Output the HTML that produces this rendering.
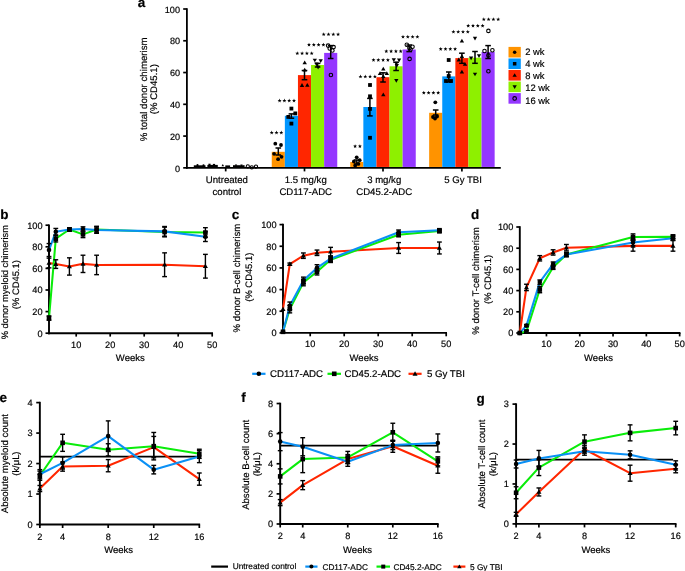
<!DOCTYPE html>
<html><head><meta charset="utf-8"><style>
html,body{margin:0;padding:0;background:#fff;}
svg{display:block;font-family:"Liberation Sans", sans-serif;}
text{stroke:#000;stroke-width:0.18px;}
svg{will-change:transform;text-rendering:geometricPrecision;filter:blur(0.3px);}
</style></head><body>
<svg width="685" height="571" viewBox="0 0 685 571">
<rect width="685" height="571" fill="#fff"/>
<text x="141.50" y="7.20" font-size="13.5" text-anchor="middle" font-weight="bold" fill="#000">a</text>
<line x1="186.90" y1="8.20" x2="186.90" y2="168.80" stroke="#000" stroke-width="1.8" stroke-linecap="butt"/>
<line x1="183.20" y1="167.85" x2="186.90" y2="167.85" stroke="#000" stroke-width="1.7" stroke-linecap="butt"/>
<text x="180.00" y="171.55" font-size="9.1" text-anchor="end" font-weight="normal" fill="#000">0</text>
<line x1="183.20" y1="136.08" x2="186.90" y2="136.08" stroke="#000" stroke-width="1.7" stroke-linecap="butt"/>
<text x="180.00" y="139.78" font-size="9.1" text-anchor="end" font-weight="normal" fill="#000">20</text>
<line x1="183.20" y1="104.31" x2="186.90" y2="104.31" stroke="#000" stroke-width="1.7" stroke-linecap="butt"/>
<text x="180.00" y="108.01" font-size="9.1" text-anchor="end" font-weight="normal" fill="#000">40</text>
<line x1="183.20" y1="72.54" x2="186.90" y2="72.54" stroke="#000" stroke-width="1.7" stroke-linecap="butt"/>
<text x="180.00" y="76.24" font-size="9.1" text-anchor="end" font-weight="normal" fill="#000">60</text>
<line x1="183.20" y1="40.77" x2="186.90" y2="40.77" stroke="#000" stroke-width="1.7" stroke-linecap="butt"/>
<text x="180.00" y="44.47" font-size="9.1" text-anchor="end" font-weight="normal" fill="#000">80</text>
<line x1="183.20" y1="9.00" x2="186.90" y2="9.00" stroke="#000" stroke-width="1.7" stroke-linecap="butt"/>
<text x="180.00" y="12.70" font-size="9.1" text-anchor="end" font-weight="normal" fill="#000">100</text>
<line x1="186.00" y1="167.85" x2="500.80" y2="167.85" stroke="#000" stroke-width="1.9" stroke-linecap="butt"/>
<line x1="225.70" y1="167.85" x2="225.70" y2="171.40" stroke="#000" stroke-width="1.7" stroke-linecap="butt"/>
<line x1="304.50" y1="167.85" x2="304.50" y2="171.40" stroke="#000" stroke-width="1.7" stroke-linecap="butt"/>
<line x1="383.00" y1="167.85" x2="383.00" y2="171.40" stroke="#000" stroke-width="1.7" stroke-linecap="butt"/>
<line x1="461.90" y1="167.85" x2="461.90" y2="171.40" stroke="#000" stroke-width="1.7" stroke-linecap="butt"/>
<rect x="192.95" y="166.90" width="13.10" height="0.05" fill="#FF9300"/>
<rect x="206.05" y="166.90" width="13.10" height="0.05" fill="#0096FF"/>
<rect x="219.15" y="167.00" width="13.10" height="-0.05" fill="#FF2600"/>
<rect x="232.25" y="166.90" width="13.10" height="0.05" fill="#8EF000"/>
<rect x="245.35" y="166.90" width="13.10" height="0.05" fill="#9437FF"/>
<rect x="271.75" y="151.80" width="13.10" height="15.15" fill="#FF9300"/>
<rect x="284.85" y="115.80" width="13.10" height="51.15" fill="#0096FF"/>
<rect x="297.95" y="75.10" width="13.10" height="91.85" fill="#FF2600"/>
<rect x="311.05" y="65.00" width="13.10" height="101.95" fill="#8EF000"/>
<rect x="324.15" y="52.90" width="13.10" height="114.05" fill="#9437FF"/>
<rect x="350.25" y="162.00" width="13.10" height="4.95" fill="#FF9300"/>
<rect x="363.35" y="107.00" width="13.10" height="59.95" fill="#0096FF"/>
<rect x="376.45" y="77.20" width="13.10" height="89.75" fill="#FF2600"/>
<rect x="389.55" y="66.30" width="13.10" height="100.65" fill="#8EF000"/>
<rect x="402.65" y="49.50" width="13.10" height="117.45" fill="#9437FF"/>
<rect x="429.15" y="112.80" width="13.10" height="54.15" fill="#FF9300"/>
<rect x="442.25" y="76.40" width="13.10" height="90.55" fill="#0096FF"/>
<rect x="455.35" y="58.10" width="13.10" height="108.85" fill="#FF2600"/>
<rect x="468.45" y="57.70" width="13.10" height="109.25" fill="#8EF000"/>
<rect x="481.55" y="52.00" width="13.10" height="114.95" fill="#9437FF"/>
<text x="147.50" y="89.30" font-size="9.7" text-anchor="middle" font-weight="normal" fill="#000" transform="rotate(-90 147.50 89.30)">% total donor chimerism</text>
<text x="157.50" y="89.20" font-size="9.6" text-anchor="middle" font-weight="normal" fill="#000" transform="rotate(-90 157.50 89.20)">(% CD45.1)</text>
<text x="226.90" y="183.10" font-size="9.6" text-anchor="middle" font-weight="normal" fill="#000">Untreated</text>
<text x="226.90" y="194.50" font-size="9.6" text-anchor="middle" font-weight="normal" fill="#000">control</text>
<text x="305.70" y="183.10" font-size="9.6" text-anchor="middle" font-weight="normal" fill="#000">1.5 mg/kg</text>
<text x="305.70" y="194.50" font-size="9.6" text-anchor="middle" font-weight="normal" fill="#000">CD117-ADC</text>
<text x="384.20" y="183.10" font-size="9.6" text-anchor="middle" font-weight="normal" fill="#000">3 mg/kg</text>
<text x="384.20" y="194.50" font-size="9.6" text-anchor="middle" font-weight="normal" fill="#000">CD45.2-ADC</text>
<text x="463.10" y="183.10" font-size="9.6" text-anchor="middle" font-weight="normal" fill="#000">5 Gy TBI</text>
<line x1="278.30" y1="148.00" x2="278.30" y2="155.00" stroke="#000" stroke-width="1.5" stroke-linecap="butt"/>
<line x1="275.50" y1="148.00" x2="281.10" y2="148.00" stroke="#000" stroke-width="1.5" stroke-linecap="butt"/>
<line x1="275.50" y1="155.00" x2="281.10" y2="155.00" stroke="#000" stroke-width="1.5" stroke-linecap="butt"/>
<line x1="291.40" y1="113.90" x2="291.40" y2="118.20" stroke="#000" stroke-width="1.5" stroke-linecap="butt"/>
<line x1="288.60" y1="113.90" x2="294.20" y2="113.90" stroke="#000" stroke-width="1.5" stroke-linecap="butt"/>
<line x1="288.60" y1="118.20" x2="294.20" y2="118.20" stroke="#000" stroke-width="1.5" stroke-linecap="butt"/>
<line x1="304.50" y1="70.50" x2="304.50" y2="79.70" stroke="#000" stroke-width="1.5" stroke-linecap="butt"/>
<line x1="301.70" y1="70.50" x2="307.30" y2="70.50" stroke="#000" stroke-width="1.5" stroke-linecap="butt"/>
<line x1="301.70" y1="79.70" x2="307.30" y2="79.70" stroke="#000" stroke-width="1.5" stroke-linecap="butt"/>
<line x1="317.60" y1="63.40" x2="317.60" y2="67.00" stroke="#000" stroke-width="1.5" stroke-linecap="butt"/>
<line x1="314.80" y1="63.40" x2="320.40" y2="63.40" stroke="#000" stroke-width="1.5" stroke-linecap="butt"/>
<line x1="314.80" y1="67.00" x2="320.40" y2="67.00" stroke="#000" stroke-width="1.5" stroke-linecap="butt"/>
<line x1="330.70" y1="45.60" x2="330.70" y2="58.50" stroke="#000" stroke-width="1.5" stroke-linecap="butt"/>
<line x1="327.90" y1="45.60" x2="333.50" y2="45.60" stroke="#000" stroke-width="1.5" stroke-linecap="butt"/>
<line x1="327.90" y1="58.50" x2="333.50" y2="58.50" stroke="#000" stroke-width="1.5" stroke-linecap="butt"/>
<line x1="356.80" y1="160.00" x2="356.80" y2="164.00" stroke="#000" stroke-width="1.5" stroke-linecap="butt"/>
<line x1="354.00" y1="160.00" x2="359.60" y2="160.00" stroke="#000" stroke-width="1.5" stroke-linecap="butt"/>
<line x1="354.00" y1="164.00" x2="359.60" y2="164.00" stroke="#000" stroke-width="1.5" stroke-linecap="butt"/>
<line x1="369.90" y1="98.40" x2="369.90" y2="115.90" stroke="#000" stroke-width="1.5" stroke-linecap="butt"/>
<line x1="367.10" y1="98.40" x2="372.70" y2="98.40" stroke="#000" stroke-width="1.5" stroke-linecap="butt"/>
<line x1="367.10" y1="115.90" x2="372.70" y2="115.90" stroke="#000" stroke-width="1.5" stroke-linecap="butt"/>
<line x1="383.00" y1="72.80" x2="383.00" y2="82.00" stroke="#000" stroke-width="1.5" stroke-linecap="butt"/>
<line x1="380.20" y1="72.80" x2="385.80" y2="72.80" stroke="#000" stroke-width="1.5" stroke-linecap="butt"/>
<line x1="380.20" y1="82.00" x2="385.80" y2="82.00" stroke="#000" stroke-width="1.5" stroke-linecap="butt"/>
<line x1="396.10" y1="62.30" x2="396.10" y2="70.50" stroke="#000" stroke-width="1.5" stroke-linecap="butt"/>
<line x1="393.30" y1="62.30" x2="398.90" y2="62.30" stroke="#000" stroke-width="1.5" stroke-linecap="butt"/>
<line x1="393.30" y1="70.50" x2="398.90" y2="70.50" stroke="#000" stroke-width="1.5" stroke-linecap="butt"/>
<line x1="409.20" y1="45.00" x2="409.20" y2="51.60" stroke="#000" stroke-width="1.5" stroke-linecap="butt"/>
<line x1="406.40" y1="45.00" x2="412.00" y2="45.00" stroke="#000" stroke-width="1.5" stroke-linecap="butt"/>
<line x1="406.40" y1="51.60" x2="412.00" y2="51.60" stroke="#000" stroke-width="1.5" stroke-linecap="butt"/>
<line x1="435.70" y1="110.00" x2="435.70" y2="115.00" stroke="#000" stroke-width="1.5" stroke-linecap="butt"/>
<line x1="432.90" y1="110.00" x2="438.50" y2="110.00" stroke="#000" stroke-width="1.5" stroke-linecap="butt"/>
<line x1="432.90" y1="115.00" x2="438.50" y2="115.00" stroke="#000" stroke-width="1.5" stroke-linecap="butt"/>
<line x1="448.80" y1="72.00" x2="448.80" y2="82.00" stroke="#000" stroke-width="1.5" stroke-linecap="butt"/>
<line x1="446.00" y1="72.00" x2="451.60" y2="72.00" stroke="#000" stroke-width="1.5" stroke-linecap="butt"/>
<line x1="446.00" y1="82.00" x2="451.60" y2="82.00" stroke="#000" stroke-width="1.5" stroke-linecap="butt"/>
<line x1="461.90" y1="53.20" x2="461.90" y2="63.30" stroke="#000" stroke-width="1.5" stroke-linecap="butt"/>
<line x1="459.10" y1="53.20" x2="464.70" y2="53.20" stroke="#000" stroke-width="1.5" stroke-linecap="butt"/>
<line x1="459.10" y1="63.30" x2="464.70" y2="63.30" stroke="#000" stroke-width="1.5" stroke-linecap="butt"/>
<line x1="475.00" y1="51.50" x2="475.00" y2="63.30" stroke="#000" stroke-width="1.5" stroke-linecap="butt"/>
<line x1="472.20" y1="51.50" x2="477.80" y2="51.50" stroke="#000" stroke-width="1.5" stroke-linecap="butt"/>
<line x1="472.20" y1="63.30" x2="477.80" y2="63.30" stroke="#000" stroke-width="1.5" stroke-linecap="butt"/>
<line x1="488.10" y1="45.60" x2="488.10" y2="58.50" stroke="#000" stroke-width="1.5" stroke-linecap="butt"/>
<line x1="485.30" y1="45.60" x2="490.90" y2="45.60" stroke="#000" stroke-width="1.5" stroke-linecap="butt"/>
<line x1="485.30" y1="58.50" x2="490.90" y2="58.50" stroke="#000" stroke-width="1.5" stroke-linecap="butt"/>
<circle cx="275.30" cy="143.70" r="1.90" fill="#000"/>
<circle cx="281.00" cy="145.00" r="1.90" fill="#000"/>
<circle cx="274.10" cy="153.80" r="1.90" fill="#000"/>
<circle cx="281.50" cy="156.80" r="1.90" fill="#000"/>
<circle cx="278.10" cy="159.20" r="1.90" fill="#000"/>
<rect x="289.50" y="106.70" width="3.80" height="3.80" fill="#000"/>
<rect x="293.40" y="111.50" width="3.80" height="3.80" fill="#000"/>
<rect x="286.40" y="115.00" width="3.80" height="3.80" fill="#000"/>
<rect x="289.50" y="121.70" width="3.80" height="3.80" fill="#000"/>
<polygon points="304.70,60.40 306.90,64.20 302.50,64.20" fill="#000"/>
<polygon points="304.70,67.80 306.90,71.60 302.50,71.60" fill="#000"/>
<polygon points="302.00,83.10 304.20,86.90 299.80,86.90" fill="#000"/>
<polygon points="307.30,83.00 309.50,86.80 305.10,86.80" fill="#000"/>
<polygon points="314.80,62.35 316.94,58.64 312.66,58.64" fill="#000"/>
<polygon points="320.70,63.05 322.84,59.34 318.56,59.34" fill="#000"/>
<polygon points="316.50,66.14 318.64,62.44 314.36,62.44" fill="#000"/>
<polygon points="318.10,69.44 320.25,65.74 315.96,65.74" fill="#000"/>
<circle cx="328.10" cy="45.60" r="1.75" fill="none" stroke="#000" stroke-width="1.1"/>
<circle cx="333.60" cy="47.10" r="1.75" fill="none" stroke="#000" stroke-width="1.1"/>
<circle cx="329.70" cy="48.50" r="1.75" fill="none" stroke="#000" stroke-width="1.1"/>
<circle cx="332.40" cy="50.50" r="1.75" fill="none" stroke="#000" stroke-width="1.1"/>
<circle cx="330.90" cy="75.00" r="1.75" fill="none" stroke="#000" stroke-width="1.1"/>
<circle cx="356.70" cy="157.30" r="1.90" fill="#000"/>
<circle cx="359.70" cy="160.20" r="1.90" fill="#000"/>
<circle cx="353.90" cy="161.50" r="1.90" fill="#000"/>
<circle cx="358.40" cy="163.90" r="1.90" fill="#000"/>
<circle cx="355.20" cy="165.50" r="1.90" fill="#000"/>
<rect x="368.10" y="83.10" width="3.80" height="3.80" fill="#000"/>
<rect x="368.10" y="94.40" width="3.80" height="3.80" fill="#000"/>
<rect x="368.10" y="107.00" width="3.80" height="3.80" fill="#000"/>
<rect x="368.10" y="135.90" width="3.80" height="3.80" fill="#000"/>
<polygon points="383.30,66.70 385.50,70.50 381.10,70.50" fill="#000"/>
<polygon points="380.00,71.20 382.20,75.00 377.80,75.00" fill="#000"/>
<polygon points="386.80,71.20 389.00,75.00 384.60,75.00" fill="#000"/>
<polygon points="383.30,74.30 385.50,78.10 381.10,78.10" fill="#000"/>
<polygon points="383.30,92.40 385.50,96.20 381.10,96.20" fill="#000"/>
<polygon points="393.80,61.95 395.94,58.24 391.66,58.24" fill="#000"/>
<polygon points="399.10,62.15 401.25,58.44 396.96,58.44" fill="#000"/>
<polygon points="396.50,65.34 398.64,61.64 394.36,61.64" fill="#000"/>
<polygon points="396.80,67.64 398.94,63.94 394.66,63.94" fill="#000"/>
<polygon points="396.30,82.64 398.44,78.94 394.16,78.94" fill="#000"/>
<circle cx="406.80" cy="44.70" r="1.75" fill="none" stroke="#000" stroke-width="1.1"/>
<circle cx="412.50" cy="46.80" r="1.75" fill="none" stroke="#000" stroke-width="1.1"/>
<circle cx="409.40" cy="47.90" r="1.75" fill="none" stroke="#000" stroke-width="1.1"/>
<circle cx="410.50" cy="49.50" r="1.75" fill="none" stroke="#000" stroke-width="1.1"/>
<circle cx="409.60" cy="58.90" r="1.75" fill="none" stroke="#000" stroke-width="1.1"/>
<circle cx="435.30" cy="102.30" r="1.90" fill="#000"/>
<circle cx="433.00" cy="117.00" r="1.90" fill="#000"/>
<circle cx="437.00" cy="116.50" r="1.90" fill="#000"/>
<circle cx="435.00" cy="118.50" r="1.90" fill="#000"/>
<rect x="446.80" y="58.10" width="3.80" height="3.80" fill="#000"/>
<rect x="446.80" y="74.10" width="3.80" height="3.80" fill="#000"/>
<rect x="444.10" y="79.10" width="3.80" height="3.80" fill="#000"/>
<rect x="449.10" y="79.10" width="3.80" height="3.80" fill="#000"/>
<polygon points="461.90,38.80 464.10,42.60 459.70,42.60" fill="#000"/>
<polygon points="461.90,54.10 464.10,57.90 459.70,57.90" fill="#000"/>
<polygon points="458.80,57.60 461.00,61.40 456.60,61.40" fill="#000"/>
<polygon points="465.00,62.00 467.20,65.80 462.80,65.80" fill="#000"/>
<polygon points="461.90,69.80 464.10,73.60 459.70,73.60" fill="#000"/>
<polygon points="475.00,40.45 477.14,36.74 472.86,36.74" fill="#000"/>
<polygon points="471.10,60.15 473.25,56.44 468.96,56.44" fill="#000"/>
<polygon points="479.00,57.95 481.14,54.24 476.86,54.24" fill="#000"/>
<polygon points="475.00,76.34 477.14,72.64 472.86,72.64" fill="#000"/>
<circle cx="488.40" cy="30.90" r="1.75" fill="none" stroke="#000" stroke-width="1.1"/>
<circle cx="484.50" cy="51.00" r="1.75" fill="none" stroke="#000" stroke-width="1.1"/>
<circle cx="492.40" cy="50.30" r="1.75" fill="none" stroke="#000" stroke-width="1.1"/>
<circle cx="488.40" cy="55.40" r="1.75" fill="none" stroke="#000" stroke-width="1.1"/>
<circle cx="488.40" cy="71.20" r="1.75" fill="none" stroke="#000" stroke-width="1.1"/>
<rect x="193.8" y="165.3" width="11.7" height="2.0" fill="#000"/>
<rect x="207.4" y="164.9" width="10.4" height="2.4" fill="#000"/>
<rect x="225.3" y="165.4" width="4.8" height="2.0" fill="#000"/>
<rect x="233.0" y="165.2" width="11.6" height="2.2" fill="#000"/>
<circle cx="197.50" cy="165.20" r="1.10" fill="#000"/>
<circle cx="203.50" cy="165.30" r="1.10" fill="#000"/>
<rect x="208.40" y="163.70" width="2.20" height="2.20" fill="#000"/>
<rect x="212.90" y="163.90" width="2.20" height="2.20" fill="#000"/>
<polygon points="222.80,164.08 224.12,166.36 221.48,166.36" fill="#000"/>
<polygon points="236.00,166.51 237.21,164.42 234.79,164.42" fill="#000"/>
<polygon points="241.50,166.61 242.71,164.52 240.29,164.52" fill="#000"/>
<circle cx="247.80" cy="166.40" r="1.60" fill="none" stroke="#000" stroke-width="1.1"/>
<circle cx="251.80" cy="167.40" r="1.60" fill="none" stroke="#000" stroke-width="1.1"/>
<circle cx="256.00" cy="166.60" r="1.60" fill="none" stroke="#000" stroke-width="1.1"/>
<polygon points="271.70,130.60 272.22,131.99 273.70,132.05 272.54,132.97 272.93,134.40 271.70,133.58 270.47,134.40 270.86,132.97 269.70,132.05 271.18,131.99" fill="#000"/>
<polygon points="276.50,130.60 277.02,131.99 278.50,132.05 277.34,132.97 277.73,134.40 276.50,133.58 275.27,134.40 275.66,132.97 274.50,132.05 275.98,131.99" fill="#000"/>
<polygon points="281.30,130.60 281.82,131.99 283.30,132.05 282.14,132.97 282.53,134.40 281.30,133.58 280.07,134.40 280.46,132.97 279.30,132.05 280.78,131.99" fill="#000"/>
<polygon points="279.60,98.60 280.12,99.99 281.60,100.05 280.44,100.97 280.83,102.40 279.60,101.58 278.37,102.40 278.76,100.97 277.60,100.05 279.08,99.99" fill="#000"/>
<polygon points="284.40,98.60 284.92,99.99 286.40,100.05 285.24,100.97 285.63,102.40 284.40,101.58 283.17,102.40 283.56,100.97 282.40,100.05 283.88,99.99" fill="#000"/>
<polygon points="289.20,98.60 289.72,99.99 291.20,100.05 290.04,100.97 290.43,102.40 289.20,101.58 287.97,102.40 288.36,100.97 287.20,100.05 288.68,99.99" fill="#000"/>
<polygon points="294.00,98.60 294.52,99.99 296.00,100.05 294.84,100.97 295.23,102.40 294.00,101.58 292.77,102.40 293.16,100.97 292.00,100.05 293.48,99.99" fill="#000"/>
<polygon points="297.30,51.30 297.82,52.69 299.30,52.75 298.14,53.67 298.53,55.10 297.30,54.28 296.07,55.10 296.46,53.67 295.30,52.75 296.78,52.69" fill="#000"/>
<polygon points="302.10,51.30 302.62,52.69 304.10,52.75 302.94,53.67 303.33,55.10 302.10,54.28 300.87,55.10 301.26,53.67 300.10,52.75 301.58,52.69" fill="#000"/>
<polygon points="306.90,51.30 307.42,52.69 308.90,52.75 307.74,53.67 308.13,55.10 306.90,54.28 305.67,55.10 306.06,53.67 304.90,52.75 306.38,52.69" fill="#000"/>
<polygon points="311.70,51.30 312.22,52.69 313.70,52.75 312.54,53.67 312.93,55.10 311.70,54.28 310.47,55.10 310.86,53.67 309.70,52.75 311.18,52.69" fill="#000"/>
<polygon points="309.00,42.70 309.52,44.09 311.00,44.15 309.84,45.07 310.23,46.50 309.00,45.68 307.77,46.50 308.16,45.07 307.00,44.15 308.48,44.09" fill="#000"/>
<polygon points="313.80,42.70 314.32,44.09 315.80,44.15 314.64,45.07 315.03,46.50 313.80,45.68 312.57,46.50 312.96,45.07 311.80,44.15 313.28,44.09" fill="#000"/>
<polygon points="318.60,42.70 319.12,44.09 320.60,44.15 319.44,45.07 319.83,46.50 318.60,45.68 317.37,46.50 317.76,45.07 316.60,44.15 318.08,44.09" fill="#000"/>
<polygon points="323.40,42.70 323.92,44.09 325.40,44.15 324.24,45.07 324.63,46.50 323.40,45.68 322.17,46.50 322.56,45.07 321.40,44.15 322.88,44.09" fill="#000"/>
<polygon points="323.70,32.30 324.22,33.69 325.70,33.75 324.54,34.67 324.93,36.10 323.70,35.28 322.47,36.10 322.86,34.67 321.70,33.75 323.18,33.69" fill="#000"/>
<polygon points="328.50,32.30 329.02,33.69 330.50,33.75 329.34,34.67 329.73,36.10 328.50,35.28 327.27,36.10 327.66,34.67 326.50,33.75 327.98,33.69" fill="#000"/>
<polygon points="333.30,32.30 333.82,33.69 335.30,33.75 334.14,34.67 334.53,36.10 333.30,35.28 332.07,36.10 332.46,34.67 331.30,33.75 332.78,33.69" fill="#000"/>
<polygon points="338.10,32.30 338.62,33.69 340.10,33.75 338.94,34.67 339.33,36.10 338.10,35.28 336.87,36.10 337.26,34.67 336.10,33.75 337.58,33.69" fill="#000"/>
<polygon points="355.10,144.20 355.62,145.59 357.10,145.65 355.94,146.57 356.33,148.00 355.10,147.18 353.87,148.00 354.26,146.57 353.10,145.65 354.58,145.59" fill="#000"/>
<polygon points="359.90,144.20 360.42,145.59 361.90,145.65 360.74,146.57 361.13,148.00 359.90,147.18 358.67,148.00 359.06,146.57 357.90,145.65 359.38,145.59" fill="#000"/>
<polygon points="360.50,74.50 361.02,75.89 362.50,75.95 361.34,76.87 361.73,78.30 360.50,77.48 359.27,78.30 359.66,76.87 358.50,75.95 359.98,75.89" fill="#000"/>
<polygon points="365.30,74.50 365.82,75.89 367.30,75.95 366.14,76.87 366.53,78.30 365.30,77.48 364.07,78.30 364.46,76.87 363.30,75.95 364.78,75.89" fill="#000"/>
<polygon points="370.10,74.50 370.62,75.89 372.10,75.95 370.94,76.87 371.33,78.30 370.10,77.48 368.87,78.30 369.26,76.87 368.10,75.95 369.58,75.89" fill="#000"/>
<polygon points="374.90,74.50 375.42,75.89 376.90,75.95 375.74,76.87 376.13,78.30 374.90,77.48 373.67,78.30 374.06,76.87 372.90,75.95 374.38,75.89" fill="#000"/>
<polygon points="373.50,57.90 374.02,59.29 375.50,59.35 374.34,60.27 374.73,61.70 373.50,60.88 372.27,61.70 372.66,60.27 371.50,59.35 372.98,59.29" fill="#000"/>
<polygon points="378.30,57.90 378.82,59.29 380.30,59.35 379.14,60.27 379.53,61.70 378.30,60.88 377.07,61.70 377.46,60.27 376.30,59.35 377.78,59.29" fill="#000"/>
<polygon points="383.10,57.90 383.62,59.29 385.10,59.35 383.94,60.27 384.33,61.70 383.10,60.88 381.87,61.70 382.26,60.27 381.10,59.35 382.58,59.29" fill="#000"/>
<polygon points="387.90,57.90 388.42,59.29 389.90,59.35 388.74,60.27 389.13,61.70 387.90,60.88 386.67,61.70 387.06,60.27 385.90,59.35 387.38,59.29" fill="#000"/>
<polygon points="386.30,49.20 386.82,50.59 388.30,50.65 387.14,51.57 387.53,53.00 386.30,52.18 385.07,53.00 385.46,51.57 384.30,50.65 385.78,50.59" fill="#000"/>
<polygon points="391.10,49.20 391.62,50.59 393.10,50.65 391.94,51.57 392.33,53.00 391.10,52.18 389.87,53.00 390.26,51.57 389.10,50.65 390.58,50.59" fill="#000"/>
<polygon points="395.90,49.20 396.42,50.59 397.90,50.65 396.74,51.57 397.13,53.00 395.90,52.18 394.67,53.00 395.06,51.57 393.90,50.65 395.38,50.59" fill="#000"/>
<polygon points="400.70,49.20 401.22,50.59 402.70,50.65 401.54,51.57 401.93,53.00 400.70,52.18 399.47,53.00 399.86,51.57 398.70,50.65 400.18,50.59" fill="#000"/>
<polygon points="403.00,34.80 403.52,36.19 405.00,36.25 403.84,37.17 404.23,38.60 403.00,37.78 401.77,38.60 402.16,37.17 401.00,36.25 402.48,36.19" fill="#000"/>
<polygon points="407.80,34.80 408.32,36.19 409.80,36.25 408.64,37.17 409.03,38.60 407.80,37.78 406.57,38.60 406.96,37.17 405.80,36.25 407.28,36.19" fill="#000"/>
<polygon points="412.60,34.80 413.12,36.19 414.60,36.25 413.44,37.17 413.83,38.60 412.60,37.78 411.37,38.60 411.76,37.17 410.60,36.25 412.08,36.19" fill="#000"/>
<polygon points="417.40,34.80 417.92,36.19 419.40,36.25 418.24,37.17 418.63,38.60 417.40,37.78 416.17,38.60 416.56,37.17 415.40,36.25 416.88,36.19" fill="#000"/>
<polygon points="423.80,90.70 424.32,92.09 425.80,92.15 424.64,93.07 425.03,94.50 423.80,93.68 422.57,94.50 422.96,93.07 421.80,92.15 423.28,92.09" fill="#000"/>
<polygon points="428.60,90.70 429.12,92.09 430.60,92.15 429.44,93.07 429.83,94.50 428.60,93.68 427.37,94.50 427.76,93.07 426.60,92.15 428.08,92.09" fill="#000"/>
<polygon points="433.40,90.70 433.92,92.09 435.40,92.15 434.24,93.07 434.63,94.50 433.40,93.68 432.17,94.50 432.56,93.07 431.40,92.15 432.88,92.09" fill="#000"/>
<polygon points="438.20,90.70 438.72,92.09 440.20,92.15 439.04,93.07 439.43,94.50 438.20,93.68 436.97,94.50 437.36,93.07 436.20,92.15 437.68,92.09" fill="#000"/>
<polygon points="440.70,46.90 441.22,48.29 442.70,48.35 441.54,49.27 441.93,50.70 440.70,49.88 439.47,50.70 439.86,49.27 438.70,48.35 440.18,48.29" fill="#000"/>
<polygon points="445.50,46.90 446.02,48.29 447.50,48.35 446.34,49.27 446.73,50.70 445.50,49.88 444.27,50.70 444.66,49.27 443.50,48.35 444.98,48.29" fill="#000"/>
<polygon points="450.30,46.90 450.82,48.29 452.30,48.35 451.14,49.27 451.53,50.70 450.30,49.88 449.07,50.70 449.46,49.27 448.30,48.35 449.78,48.29" fill="#000"/>
<polygon points="455.10,46.90 455.62,48.29 457.10,48.35 455.94,49.27 456.33,50.70 455.10,49.88 453.87,50.70 454.26,49.27 453.10,48.35 454.58,48.29" fill="#000"/>
<polygon points="453.40,29.80 453.92,31.19 455.40,31.25 454.24,32.17 454.63,33.60 453.40,32.78 452.17,33.60 452.56,32.17 451.40,31.25 452.88,31.19" fill="#000"/>
<polygon points="458.20,29.80 458.72,31.19 460.20,31.25 459.04,32.17 459.43,33.60 458.20,32.78 456.97,33.60 457.36,32.17 456.20,31.25 457.68,31.19" fill="#000"/>
<polygon points="463.00,29.80 463.52,31.19 465.00,31.25 463.84,32.17 464.23,33.60 463.00,32.78 461.77,33.60 462.16,32.17 461.00,31.25 462.48,31.19" fill="#000"/>
<polygon points="467.80,29.80 468.32,31.19 469.80,31.25 468.64,32.17 469.03,33.60 467.80,32.78 466.57,33.60 466.96,32.17 465.80,31.25 467.28,31.19" fill="#000"/>
<polygon points="468.20,23.70 468.72,25.09 470.20,25.15 469.04,26.07 469.43,27.50 468.20,26.68 466.97,27.50 467.36,26.07 466.20,25.15 467.68,25.09" fill="#000"/>
<polygon points="473.00,23.70 473.52,25.09 475.00,25.15 473.84,26.07 474.23,27.50 473.00,26.68 471.77,27.50 472.16,26.07 471.00,25.15 472.48,25.09" fill="#000"/>
<polygon points="477.80,23.70 478.32,25.09 479.80,25.15 478.64,26.07 479.03,27.50 477.80,26.68 476.57,27.50 476.96,26.07 475.80,25.15 477.28,25.09" fill="#000"/>
<polygon points="482.60,23.70 483.12,25.09 484.60,25.15 483.44,26.07 483.83,27.50 482.60,26.68 481.37,27.50 481.76,26.07 480.60,25.15 482.08,25.09" fill="#000"/>
<polygon points="483.80,17.30 484.32,18.69 485.80,18.75 484.64,19.67 485.03,21.10 483.80,20.28 482.57,21.10 482.96,19.67 481.80,18.75 483.28,18.69" fill="#000"/>
<polygon points="488.60,17.30 489.12,18.69 490.60,18.75 489.44,19.67 489.83,21.10 488.60,20.28 487.37,21.10 487.76,19.67 486.60,18.75 488.08,18.69" fill="#000"/>
<polygon points="493.40,17.30 493.92,18.69 495.40,18.75 494.24,19.67 494.63,21.10 493.40,20.28 492.17,21.10 492.56,19.67 491.40,18.75 492.88,18.69" fill="#000"/>
<polygon points="498.20,17.30 498.72,18.69 500.20,18.75 499.04,19.67 499.43,21.10 498.20,20.28 496.97,21.10 497.36,19.67 496.20,18.75 497.68,18.69" fill="#000"/>
<rect x="508.50" y="46.90" width="12.30" height="10.60" fill="#FF9300"/>
<circle cx="514.65" cy="52.20" r="1.75" fill="#000"/>
<text x="525.20" y="55.00" font-size="9.4" text-anchor="start" font-weight="normal" fill="#000">2 wk</text>
<rect x="508.50" y="58.45" width="12.30" height="10.60" fill="#0096FF"/>
<rect x="512.90" y="62.00" width="3.50" height="3.50" fill="#000"/>
<text x="525.20" y="67.15" font-size="9.4" text-anchor="start" font-weight="normal" fill="#000">4 wk</text>
<rect x="508.50" y="70.00" width="12.30" height="10.60" fill="#FF2600"/>
<polygon points="514.65,73.16 516.79,76.86 512.50,76.86" fill="#000"/>
<text x="525.20" y="79.30" font-size="9.4" text-anchor="start" font-weight="normal" fill="#000">8 wk</text>
<rect x="508.50" y="81.55" width="12.30" height="10.60" fill="#8EF000"/>
<polygon points="514.65,89.00 516.79,85.29 512.50,85.29" fill="#000"/>
<text x="525.20" y="91.45" font-size="9.4" text-anchor="start" font-weight="normal" fill="#000">12 wk</text>
<rect x="508.50" y="93.10" width="12.30" height="10.60" fill="#9437FF"/>
<circle cx="514.65" cy="98.40" r="1.80" fill="none" stroke="#000" stroke-width="1.1"/>
<text x="525.20" y="103.60" font-size="9.4" text-anchor="start" font-weight="normal" fill="#000">16 wk</text>
<text x="4.30" y="218.80" font-size="13.5" text-anchor="middle" font-weight="bold" fill="#000">b</text>
<line x1="49.00" y1="224.40" x2="49.00" y2="334.20" stroke="#000" stroke-width="1.9" stroke-linecap="butt"/>
<line x1="48.10" y1="333.20" x2="213.00" y2="333.20" stroke="#000" stroke-width="1.9" stroke-linecap="butt"/>
<line x1="45.50" y1="333.20" x2="49.00" y2="333.20" stroke="#000" stroke-width="1.7" stroke-linecap="butt"/>
<text x="42.50" y="336.50" font-size="9.2" text-anchor="end" font-weight="normal" fill="#000">0</text>
<line x1="45.50" y1="311.60" x2="49.00" y2="311.60" stroke="#000" stroke-width="1.7" stroke-linecap="butt"/>
<text x="42.50" y="314.90" font-size="9.2" text-anchor="end" font-weight="normal" fill="#000">20</text>
<line x1="45.50" y1="290.00" x2="49.00" y2="290.00" stroke="#000" stroke-width="1.7" stroke-linecap="butt"/>
<text x="42.50" y="293.30" font-size="9.2" text-anchor="end" font-weight="normal" fill="#000">40</text>
<line x1="45.50" y1="268.40" x2="49.00" y2="268.40" stroke="#000" stroke-width="1.7" stroke-linecap="butt"/>
<text x="42.50" y="271.70" font-size="9.2" text-anchor="end" font-weight="normal" fill="#000">60</text>
<line x1="45.50" y1="246.80" x2="49.00" y2="246.80" stroke="#000" stroke-width="1.7" stroke-linecap="butt"/>
<text x="42.50" y="250.10" font-size="9.2" text-anchor="end" font-weight="normal" fill="#000">80</text>
<line x1="45.50" y1="225.20" x2="49.00" y2="225.20" stroke="#000" stroke-width="1.7" stroke-linecap="butt"/>
<text x="42.50" y="228.50" font-size="9.2" text-anchor="end" font-weight="normal" fill="#000">100</text>
<line x1="76.20" y1="333.20" x2="76.20" y2="336.60" stroke="#000" stroke-width="1.7" stroke-linecap="butt"/>
<text x="76.20" y="347.60" font-size="9.2" text-anchor="middle" font-weight="normal" fill="#000">10</text>
<line x1="110.20" y1="333.20" x2="110.20" y2="336.60" stroke="#000" stroke-width="1.7" stroke-linecap="butt"/>
<text x="110.20" y="347.60" font-size="9.2" text-anchor="middle" font-weight="normal" fill="#000">20</text>
<line x1="144.20" y1="333.20" x2="144.20" y2="336.60" stroke="#000" stroke-width="1.7" stroke-linecap="butt"/>
<text x="144.20" y="347.60" font-size="9.2" text-anchor="middle" font-weight="normal" fill="#000">30</text>
<line x1="178.20" y1="333.20" x2="178.20" y2="336.60" stroke="#000" stroke-width="1.7" stroke-linecap="butt"/>
<text x="178.20" y="347.60" font-size="9.2" text-anchor="middle" font-weight="normal" fill="#000">40</text>
<line x1="212.20" y1="333.20" x2="212.20" y2="336.60" stroke="#000" stroke-width="1.7" stroke-linecap="butt"/>
<text x="212.20" y="347.60" font-size="9.2" text-anchor="middle" font-weight="normal" fill="#000">50</text>
<text x="130.30" y="361.40" font-size="9.5" text-anchor="middle" font-weight="normal" fill="#000">Weeks</text>
<text x="7.90" y="282.20" font-size="9.3" text-anchor="middle" font-weight="normal" fill="#000" transform="rotate(-90 7.90 282.20)">% donor myeloid chimerism</text>
<text x="19.40" y="284.70" font-size="9.4" text-anchor="middle" font-weight="normal" fill="#000" transform="rotate(-90 19.40 284.70)">(% CD45.1)</text>
<polyline points="49.00,263.00 55.80,264.08 69.40,266.46 83.00,263.86 96.60,264.94 164.60,264.73 205.40,266.24" fill="none" stroke="#FF2600" stroke-width="2.05" stroke-linejoin="round"/>
<polyline points="49.00,318.08 55.80,238.70 69.40,229.52 83.00,234.38 96.60,229.52 164.60,232.00 205.40,232.54" fill="none" stroke="#0AEC0A" stroke-width="2.05" stroke-linejoin="round"/>
<polyline points="49.00,250.04 55.80,231.68 69.40,229.52 83.00,228.98 96.60,230.06 164.60,231.36 205.40,236.65" fill="none" stroke="#0A90F5" stroke-width="2.05" stroke-linejoin="round"/>
<line x1="49.00" y1="258.14" x2="49.00" y2="267.86" stroke="#000" stroke-width="1.4" stroke-linecap="butt"/>
<line x1="46.60" y1="258.14" x2="51.40" y2="258.14" stroke="#000" stroke-width="1.4" stroke-linecap="butt"/>
<line x1="46.60" y1="267.86" x2="51.40" y2="267.86" stroke="#000" stroke-width="1.4" stroke-linecap="butt"/>
<polygon points="49.00,260.47 51.53,264.84 46.47,264.84" fill="#000"/>
<line x1="55.80" y1="259.76" x2="55.80" y2="268.40" stroke="#000" stroke-width="1.4" stroke-linecap="butt"/>
<line x1="53.40" y1="259.76" x2="58.20" y2="259.76" stroke="#000" stroke-width="1.4" stroke-linecap="butt"/>
<line x1="53.40" y1="268.40" x2="58.20" y2="268.40" stroke="#000" stroke-width="1.4" stroke-linecap="butt"/>
<polygon points="55.80,261.55 58.33,265.92 53.27,265.92" fill="#000"/>
<line x1="69.40" y1="257.82" x2="69.40" y2="275.10" stroke="#000" stroke-width="1.4" stroke-linecap="butt"/>
<line x1="67.00" y1="257.82" x2="71.80" y2="257.82" stroke="#000" stroke-width="1.4" stroke-linecap="butt"/>
<line x1="67.00" y1="275.10" x2="71.80" y2="275.10" stroke="#000" stroke-width="1.4" stroke-linecap="butt"/>
<polygon points="69.40,263.93 71.93,268.30 66.87,268.30" fill="#000"/>
<line x1="83.00" y1="255.22" x2="83.00" y2="272.50" stroke="#000" stroke-width="1.4" stroke-linecap="butt"/>
<line x1="80.60" y1="255.22" x2="85.40" y2="255.22" stroke="#000" stroke-width="1.4" stroke-linecap="butt"/>
<line x1="80.60" y1="272.50" x2="85.40" y2="272.50" stroke="#000" stroke-width="1.4" stroke-linecap="butt"/>
<polygon points="83.00,261.33 85.53,265.70 80.47,265.70" fill="#000"/>
<line x1="96.60" y1="255.22" x2="96.60" y2="274.66" stroke="#000" stroke-width="1.4" stroke-linecap="butt"/>
<line x1="94.20" y1="255.22" x2="99.00" y2="255.22" stroke="#000" stroke-width="1.4" stroke-linecap="butt"/>
<line x1="94.20" y1="274.66" x2="99.00" y2="274.66" stroke="#000" stroke-width="1.4" stroke-linecap="butt"/>
<polygon points="96.60,262.41 99.13,266.78 94.07,266.78" fill="#000"/>
<line x1="164.60" y1="252.85" x2="164.60" y2="276.61" stroke="#000" stroke-width="1.4" stroke-linecap="butt"/>
<line x1="162.20" y1="252.85" x2="167.00" y2="252.85" stroke="#000" stroke-width="1.4" stroke-linecap="butt"/>
<line x1="162.20" y1="276.61" x2="167.00" y2="276.61" stroke="#000" stroke-width="1.4" stroke-linecap="butt"/>
<polygon points="164.60,262.20 167.13,266.57 162.07,266.57" fill="#000"/>
<line x1="205.40" y1="254.36" x2="205.40" y2="278.12" stroke="#000" stroke-width="1.4" stroke-linecap="butt"/>
<line x1="203.00" y1="254.36" x2="207.80" y2="254.36" stroke="#000" stroke-width="1.4" stroke-linecap="butt"/>
<line x1="203.00" y1="278.12" x2="207.80" y2="278.12" stroke="#000" stroke-width="1.4" stroke-linecap="butt"/>
<polygon points="205.40,263.71 207.93,268.08 202.87,268.08" fill="#000"/>
<line x1="49.00" y1="315.92" x2="49.00" y2="320.24" stroke="#000" stroke-width="1.4" stroke-linecap="butt"/>
<line x1="46.60" y1="315.92" x2="51.40" y2="315.92" stroke="#000" stroke-width="1.4" stroke-linecap="butt"/>
<line x1="46.60" y1="320.24" x2="51.40" y2="320.24" stroke="#000" stroke-width="1.4" stroke-linecap="butt"/>
<rect x="46.70" y="315.78" width="4.60" height="4.60" fill="#000"/>
<line x1="55.80" y1="235.46" x2="55.80" y2="241.94" stroke="#000" stroke-width="1.4" stroke-linecap="butt"/>
<line x1="53.40" y1="235.46" x2="58.20" y2="235.46" stroke="#000" stroke-width="1.4" stroke-linecap="butt"/>
<line x1="53.40" y1="241.94" x2="58.20" y2="241.94" stroke="#000" stroke-width="1.4" stroke-linecap="butt"/>
<rect x="53.50" y="236.40" width="4.60" height="4.60" fill="#000"/>
<line x1="69.40" y1="227.90" x2="69.40" y2="231.14" stroke="#000" stroke-width="1.4" stroke-linecap="butt"/>
<line x1="67.00" y1="227.90" x2="71.80" y2="227.90" stroke="#000" stroke-width="1.4" stroke-linecap="butt"/>
<line x1="67.00" y1="231.14" x2="71.80" y2="231.14" stroke="#000" stroke-width="1.4" stroke-linecap="butt"/>
<rect x="67.10" y="227.22" width="4.60" height="4.60" fill="#000"/>
<line x1="83.00" y1="231.14" x2="83.00" y2="237.62" stroke="#000" stroke-width="1.4" stroke-linecap="butt"/>
<line x1="80.60" y1="231.14" x2="85.40" y2="231.14" stroke="#000" stroke-width="1.4" stroke-linecap="butt"/>
<line x1="80.60" y1="237.62" x2="85.40" y2="237.62" stroke="#000" stroke-width="1.4" stroke-linecap="butt"/>
<rect x="80.70" y="232.08" width="4.60" height="4.60" fill="#000"/>
<line x1="96.60" y1="226.28" x2="96.60" y2="232.76" stroke="#000" stroke-width="1.4" stroke-linecap="butt"/>
<line x1="94.20" y1="226.28" x2="99.00" y2="226.28" stroke="#000" stroke-width="1.4" stroke-linecap="butt"/>
<line x1="94.20" y1="232.76" x2="99.00" y2="232.76" stroke="#000" stroke-width="1.4" stroke-linecap="butt"/>
<rect x="94.30" y="227.22" width="4.60" height="4.60" fill="#000"/>
<line x1="164.60" y1="227.14" x2="164.60" y2="236.86" stroke="#000" stroke-width="1.4" stroke-linecap="butt"/>
<line x1="162.20" y1="227.14" x2="167.00" y2="227.14" stroke="#000" stroke-width="1.4" stroke-linecap="butt"/>
<line x1="162.20" y1="236.86" x2="167.00" y2="236.86" stroke="#000" stroke-width="1.4" stroke-linecap="butt"/>
<rect x="162.30" y="229.70" width="4.60" height="4.60" fill="#000"/>
<line x1="205.40" y1="227.68" x2="205.40" y2="237.40" stroke="#000" stroke-width="1.4" stroke-linecap="butt"/>
<line x1="203.00" y1="227.68" x2="207.80" y2="227.68" stroke="#000" stroke-width="1.4" stroke-linecap="butt"/>
<line x1="203.00" y1="237.40" x2="207.80" y2="237.40" stroke="#000" stroke-width="1.4" stroke-linecap="butt"/>
<rect x="203.10" y="230.24" width="4.60" height="4.60" fill="#000"/>
<line x1="49.00" y1="243.56" x2="49.00" y2="256.52" stroke="#000" stroke-width="1.4" stroke-linecap="butt"/>
<line x1="46.60" y1="243.56" x2="51.40" y2="243.56" stroke="#000" stroke-width="1.4" stroke-linecap="butt"/>
<line x1="46.60" y1="256.52" x2="51.40" y2="256.52" stroke="#000" stroke-width="1.4" stroke-linecap="butt"/>
<circle cx="49.00" cy="250.04" r="2.30" fill="#000"/>
<line x1="55.80" y1="228.44" x2="55.80" y2="234.92" stroke="#000" stroke-width="1.4" stroke-linecap="butt"/>
<line x1="53.40" y1="228.44" x2="58.20" y2="228.44" stroke="#000" stroke-width="1.4" stroke-linecap="butt"/>
<line x1="53.40" y1="234.92" x2="58.20" y2="234.92" stroke="#000" stroke-width="1.4" stroke-linecap="butt"/>
<circle cx="55.80" cy="231.68" r="2.30" fill="#000"/>
<line x1="69.40" y1="227.90" x2="69.40" y2="231.14" stroke="#000" stroke-width="1.4" stroke-linecap="butt"/>
<line x1="67.00" y1="227.90" x2="71.80" y2="227.90" stroke="#000" stroke-width="1.4" stroke-linecap="butt"/>
<line x1="67.00" y1="231.14" x2="71.80" y2="231.14" stroke="#000" stroke-width="1.4" stroke-linecap="butt"/>
<circle cx="69.40" cy="229.52" r="2.30" fill="#000"/>
<line x1="83.00" y1="226.82" x2="83.00" y2="231.14" stroke="#000" stroke-width="1.4" stroke-linecap="butt"/>
<line x1="80.60" y1="226.82" x2="85.40" y2="226.82" stroke="#000" stroke-width="1.4" stroke-linecap="butt"/>
<line x1="80.60" y1="231.14" x2="85.40" y2="231.14" stroke="#000" stroke-width="1.4" stroke-linecap="butt"/>
<circle cx="83.00" cy="228.98" r="2.30" fill="#000"/>
<line x1="96.60" y1="226.82" x2="96.60" y2="233.30" stroke="#000" stroke-width="1.4" stroke-linecap="butt"/>
<line x1="94.20" y1="226.82" x2="99.00" y2="226.82" stroke="#000" stroke-width="1.4" stroke-linecap="butt"/>
<line x1="94.20" y1="233.30" x2="99.00" y2="233.30" stroke="#000" stroke-width="1.4" stroke-linecap="butt"/>
<circle cx="96.60" cy="230.06" r="2.30" fill="#000"/>
<line x1="164.60" y1="226.50" x2="164.60" y2="236.22" stroke="#000" stroke-width="1.4" stroke-linecap="butt"/>
<line x1="162.20" y1="226.50" x2="167.00" y2="226.50" stroke="#000" stroke-width="1.4" stroke-linecap="butt"/>
<line x1="162.20" y1="236.22" x2="167.00" y2="236.22" stroke="#000" stroke-width="1.4" stroke-linecap="butt"/>
<circle cx="164.60" cy="231.36" r="2.30" fill="#000"/>
<line x1="205.40" y1="231.79" x2="205.40" y2="241.51" stroke="#000" stroke-width="1.4" stroke-linecap="butt"/>
<line x1="203.00" y1="231.79" x2="207.80" y2="231.79" stroke="#000" stroke-width="1.4" stroke-linecap="butt"/>
<line x1="203.00" y1="241.51" x2="207.80" y2="241.51" stroke="#000" stroke-width="1.4" stroke-linecap="butt"/>
<circle cx="205.40" cy="236.65" r="2.30" fill="#000"/>
<text x="235.50" y="219.00" font-size="13.5" text-anchor="middle" font-weight="bold" fill="#000">c</text>
<line x1="283.00" y1="223.80" x2="283.00" y2="333.90" stroke="#000" stroke-width="1.9" stroke-linecap="butt"/>
<line x1="282.10" y1="332.90" x2="447.00" y2="332.90" stroke="#000" stroke-width="1.9" stroke-linecap="butt"/>
<line x1="279.50" y1="332.90" x2="283.00" y2="332.90" stroke="#000" stroke-width="1.7" stroke-linecap="butt"/>
<text x="276.50" y="336.20" font-size="9.2" text-anchor="end" font-weight="normal" fill="#000">0</text>
<line x1="279.50" y1="311.24" x2="283.00" y2="311.24" stroke="#000" stroke-width="1.7" stroke-linecap="butt"/>
<text x="276.50" y="314.54" font-size="9.2" text-anchor="end" font-weight="normal" fill="#000">20</text>
<line x1="279.50" y1="289.58" x2="283.00" y2="289.58" stroke="#000" stroke-width="1.7" stroke-linecap="butt"/>
<text x="276.50" y="292.88" font-size="9.2" text-anchor="end" font-weight="normal" fill="#000">40</text>
<line x1="279.50" y1="267.92" x2="283.00" y2="267.92" stroke="#000" stroke-width="1.7" stroke-linecap="butt"/>
<text x="276.50" y="271.22" font-size="9.2" text-anchor="end" font-weight="normal" fill="#000">60</text>
<line x1="279.50" y1="246.26" x2="283.00" y2="246.26" stroke="#000" stroke-width="1.7" stroke-linecap="butt"/>
<text x="276.50" y="249.56" font-size="9.2" text-anchor="end" font-weight="normal" fill="#000">80</text>
<line x1="279.50" y1="224.60" x2="283.00" y2="224.60" stroke="#000" stroke-width="1.7" stroke-linecap="butt"/>
<text x="276.50" y="227.90" font-size="9.2" text-anchor="end" font-weight="normal" fill="#000">100</text>
<line x1="310.20" y1="332.90" x2="310.20" y2="336.30" stroke="#000" stroke-width="1.7" stroke-linecap="butt"/>
<text x="310.20" y="347.30" font-size="9.2" text-anchor="middle" font-weight="normal" fill="#000">10</text>
<line x1="344.20" y1="332.90" x2="344.20" y2="336.30" stroke="#000" stroke-width="1.7" stroke-linecap="butt"/>
<text x="344.20" y="347.30" font-size="9.2" text-anchor="middle" font-weight="normal" fill="#000">20</text>
<line x1="378.20" y1="332.90" x2="378.20" y2="336.30" stroke="#000" stroke-width="1.7" stroke-linecap="butt"/>
<text x="378.20" y="347.30" font-size="9.2" text-anchor="middle" font-weight="normal" fill="#000">30</text>
<line x1="412.20" y1="332.90" x2="412.20" y2="336.30" stroke="#000" stroke-width="1.7" stroke-linecap="butt"/>
<text x="412.20" y="347.30" font-size="9.2" text-anchor="middle" font-weight="normal" fill="#000">40</text>
<line x1="446.20" y1="332.90" x2="446.20" y2="336.30" stroke="#000" stroke-width="1.7" stroke-linecap="butt"/>
<text x="446.20" y="347.30" font-size="9.2" text-anchor="middle" font-weight="normal" fill="#000">50</text>
<text x="364.00" y="361.10" font-size="9.5" text-anchor="middle" font-weight="normal" fill="#000">Weeks</text>
<text x="239.80" y="278.00" font-size="9.6" text-anchor="middle" font-weight="normal" fill="#000" transform="rotate(-90 239.80 278.00)">% donor B-cell chimerism</text>
<text x="251.60" y="277.20" font-size="9.4" text-anchor="middle" font-weight="normal" fill="#000" transform="rotate(-90 251.60 277.20)">(% CD45.1)</text>
<polyline points="283.00,309.07 289.80,264.13 303.40,255.68 317.00,252.76 330.60,251.67 398.60,247.99 439.40,247.99" fill="none" stroke="#FF2600" stroke-width="2.05" stroke-linejoin="round"/>
<polyline points="283.00,331.82 289.80,309.07 303.40,282.54 317.00,271.71 330.60,259.80 398.60,234.67 439.40,231.10" fill="none" stroke="#0AEC0A" stroke-width="2.05" stroke-linejoin="round"/>
<polyline points="283.00,331.82 289.80,305.82 303.40,280.37 317.00,267.92 330.60,258.71 398.60,232.18 439.40,230.23" fill="none" stroke="#0A90F5" stroke-width="2.05" stroke-linejoin="round"/>
<polygon points="283.00,306.54 285.53,310.91 280.47,310.91" fill="#000"/>
<line x1="289.80" y1="263.05" x2="289.80" y2="265.21" stroke="#000" stroke-width="1.4" stroke-linecap="butt"/>
<line x1="287.40" y1="263.05" x2="292.20" y2="263.05" stroke="#000" stroke-width="1.4" stroke-linecap="butt"/>
<line x1="287.40" y1="265.21" x2="292.20" y2="265.21" stroke="#000" stroke-width="1.4" stroke-linecap="butt"/>
<polygon points="289.80,261.60 292.33,265.97 287.27,265.97" fill="#000"/>
<line x1="303.40" y1="252.97" x2="303.40" y2="258.39" stroke="#000" stroke-width="1.4" stroke-linecap="butt"/>
<line x1="301.00" y1="252.97" x2="305.80" y2="252.97" stroke="#000" stroke-width="1.4" stroke-linecap="butt"/>
<line x1="301.00" y1="258.39" x2="305.80" y2="258.39" stroke="#000" stroke-width="1.4" stroke-linecap="butt"/>
<polygon points="303.40,253.15 305.93,257.52 300.87,257.52" fill="#000"/>
<line x1="317.00" y1="250.05" x2="317.00" y2="255.47" stroke="#000" stroke-width="1.4" stroke-linecap="butt"/>
<line x1="314.60" y1="250.05" x2="319.40" y2="250.05" stroke="#000" stroke-width="1.4" stroke-linecap="butt"/>
<line x1="314.60" y1="255.47" x2="319.40" y2="255.47" stroke="#000" stroke-width="1.4" stroke-linecap="butt"/>
<polygon points="317.00,250.23 319.53,254.60 314.47,254.60" fill="#000"/>
<line x1="330.60" y1="247.34" x2="330.60" y2="256.01" stroke="#000" stroke-width="1.4" stroke-linecap="butt"/>
<line x1="328.20" y1="247.34" x2="333.00" y2="247.34" stroke="#000" stroke-width="1.4" stroke-linecap="butt"/>
<line x1="328.20" y1="256.01" x2="333.00" y2="256.01" stroke="#000" stroke-width="1.4" stroke-linecap="butt"/>
<polygon points="330.60,249.14 333.13,253.51 328.07,253.51" fill="#000"/>
<line x1="398.60" y1="242.58" x2="398.60" y2="253.41" stroke="#000" stroke-width="1.4" stroke-linecap="butt"/>
<line x1="396.20" y1="242.58" x2="401.00" y2="242.58" stroke="#000" stroke-width="1.4" stroke-linecap="butt"/>
<line x1="396.20" y1="253.41" x2="401.00" y2="253.41" stroke="#000" stroke-width="1.4" stroke-linecap="butt"/>
<polygon points="398.60,245.46 401.13,249.83 396.07,249.83" fill="#000"/>
<line x1="439.40" y1="242.04" x2="439.40" y2="253.95" stroke="#000" stroke-width="1.4" stroke-linecap="butt"/>
<line x1="437.00" y1="242.04" x2="441.80" y2="242.04" stroke="#000" stroke-width="1.4" stroke-linecap="butt"/>
<line x1="437.00" y1="253.95" x2="441.80" y2="253.95" stroke="#000" stroke-width="1.4" stroke-linecap="butt"/>
<polygon points="439.40,245.46 441.93,249.83 436.87,249.83" fill="#000"/>
<rect x="280.70" y="329.52" width="4.60" height="4.60" fill="#000"/>
<line x1="289.80" y1="305.28" x2="289.80" y2="312.86" stroke="#000" stroke-width="1.4" stroke-linecap="butt"/>
<line x1="287.40" y1="305.28" x2="292.20" y2="305.28" stroke="#000" stroke-width="1.4" stroke-linecap="butt"/>
<line x1="287.40" y1="312.86" x2="292.20" y2="312.86" stroke="#000" stroke-width="1.4" stroke-linecap="butt"/>
<rect x="287.50" y="306.77" width="4.60" height="4.60" fill="#000"/>
<line x1="303.40" y1="279.29" x2="303.40" y2="285.79" stroke="#000" stroke-width="1.4" stroke-linecap="butt"/>
<line x1="301.00" y1="279.29" x2="305.80" y2="279.29" stroke="#000" stroke-width="1.4" stroke-linecap="butt"/>
<line x1="301.00" y1="285.79" x2="305.80" y2="285.79" stroke="#000" stroke-width="1.4" stroke-linecap="butt"/>
<rect x="301.10" y="280.24" width="4.60" height="4.60" fill="#000"/>
<line x1="317.00" y1="268.46" x2="317.00" y2="274.96" stroke="#000" stroke-width="1.4" stroke-linecap="butt"/>
<line x1="314.60" y1="268.46" x2="319.40" y2="268.46" stroke="#000" stroke-width="1.4" stroke-linecap="butt"/>
<line x1="314.60" y1="274.96" x2="319.40" y2="274.96" stroke="#000" stroke-width="1.4" stroke-linecap="butt"/>
<rect x="314.70" y="269.41" width="4.60" height="4.60" fill="#000"/>
<line x1="330.60" y1="257.09" x2="330.60" y2="262.50" stroke="#000" stroke-width="1.4" stroke-linecap="butt"/>
<line x1="328.20" y1="257.09" x2="333.00" y2="257.09" stroke="#000" stroke-width="1.4" stroke-linecap="butt"/>
<line x1="328.20" y1="262.50" x2="333.00" y2="262.50" stroke="#000" stroke-width="1.4" stroke-linecap="butt"/>
<rect x="328.30" y="257.50" width="4.60" height="4.60" fill="#000"/>
<line x1="398.60" y1="232.51" x2="398.60" y2="236.84" stroke="#000" stroke-width="1.4" stroke-linecap="butt"/>
<line x1="396.20" y1="232.51" x2="401.00" y2="232.51" stroke="#000" stroke-width="1.4" stroke-linecap="butt"/>
<line x1="396.20" y1="236.84" x2="401.00" y2="236.84" stroke="#000" stroke-width="1.4" stroke-linecap="butt"/>
<rect x="396.30" y="232.37" width="4.60" height="4.60" fill="#000"/>
<line x1="439.40" y1="229.47" x2="439.40" y2="232.72" stroke="#000" stroke-width="1.4" stroke-linecap="butt"/>
<line x1="437.00" y1="229.47" x2="441.80" y2="229.47" stroke="#000" stroke-width="1.4" stroke-linecap="butt"/>
<line x1="437.00" y1="232.72" x2="441.80" y2="232.72" stroke="#000" stroke-width="1.4" stroke-linecap="butt"/>
<rect x="437.10" y="228.80" width="4.60" height="4.60" fill="#000"/>
<circle cx="283.00" cy="331.82" r="2.30" fill="#000"/>
<line x1="289.80" y1="302.03" x2="289.80" y2="309.62" stroke="#000" stroke-width="1.4" stroke-linecap="butt"/>
<line x1="287.40" y1="302.03" x2="292.20" y2="302.03" stroke="#000" stroke-width="1.4" stroke-linecap="butt"/>
<line x1="287.40" y1="309.62" x2="292.20" y2="309.62" stroke="#000" stroke-width="1.4" stroke-linecap="butt"/>
<circle cx="289.80" cy="305.82" r="2.30" fill="#000"/>
<line x1="303.40" y1="277.13" x2="303.40" y2="283.62" stroke="#000" stroke-width="1.4" stroke-linecap="butt"/>
<line x1="301.00" y1="277.13" x2="305.80" y2="277.13" stroke="#000" stroke-width="1.4" stroke-linecap="butt"/>
<line x1="301.00" y1="283.62" x2="305.80" y2="283.62" stroke="#000" stroke-width="1.4" stroke-linecap="butt"/>
<circle cx="303.40" cy="280.37" r="2.30" fill="#000"/>
<line x1="317.00" y1="264.67" x2="317.00" y2="271.17" stroke="#000" stroke-width="1.4" stroke-linecap="butt"/>
<line x1="314.60" y1="264.67" x2="319.40" y2="264.67" stroke="#000" stroke-width="1.4" stroke-linecap="butt"/>
<line x1="314.60" y1="271.17" x2="319.40" y2="271.17" stroke="#000" stroke-width="1.4" stroke-linecap="butt"/>
<circle cx="317.00" cy="267.92" r="2.30" fill="#000"/>
<line x1="330.60" y1="256.01" x2="330.60" y2="261.42" stroke="#000" stroke-width="1.4" stroke-linecap="butt"/>
<line x1="328.20" y1="256.01" x2="333.00" y2="256.01" stroke="#000" stroke-width="1.4" stroke-linecap="butt"/>
<line x1="328.20" y1="261.42" x2="333.00" y2="261.42" stroke="#000" stroke-width="1.4" stroke-linecap="butt"/>
<circle cx="330.60" cy="258.71" r="2.30" fill="#000"/>
<line x1="398.60" y1="230.01" x2="398.60" y2="234.35" stroke="#000" stroke-width="1.4" stroke-linecap="butt"/>
<line x1="396.20" y1="230.01" x2="401.00" y2="230.01" stroke="#000" stroke-width="1.4" stroke-linecap="butt"/>
<line x1="396.20" y1="234.35" x2="401.00" y2="234.35" stroke="#000" stroke-width="1.4" stroke-linecap="butt"/>
<circle cx="398.60" cy="232.18" r="2.30" fill="#000"/>
<line x1="439.40" y1="228.61" x2="439.40" y2="231.86" stroke="#000" stroke-width="1.4" stroke-linecap="butt"/>
<line x1="437.00" y1="228.61" x2="441.80" y2="228.61" stroke="#000" stroke-width="1.4" stroke-linecap="butt"/>
<line x1="437.00" y1="231.86" x2="441.80" y2="231.86" stroke="#000" stroke-width="1.4" stroke-linecap="butt"/>
<circle cx="439.40" cy="230.23" r="2.30" fill="#000"/>
<text x="475.20" y="218.80" font-size="13.5" text-anchor="middle" font-weight="bold" fill="#000">d</text>
<line x1="519.80" y1="226.20" x2="519.80" y2="334.00" stroke="#000" stroke-width="1.9" stroke-linecap="butt"/>
<line x1="518.90" y1="333.00" x2="680.44" y2="333.00" stroke="#000" stroke-width="1.9" stroke-linecap="butt"/>
<line x1="516.30" y1="333.00" x2="519.80" y2="333.00" stroke="#000" stroke-width="1.7" stroke-linecap="butt"/>
<text x="513.30" y="336.30" font-size="9.2" text-anchor="end" font-weight="normal" fill="#000">0</text>
<line x1="516.30" y1="311.80" x2="519.80" y2="311.80" stroke="#000" stroke-width="1.7" stroke-linecap="butt"/>
<text x="513.30" y="315.10" font-size="9.2" text-anchor="end" font-weight="normal" fill="#000">20</text>
<line x1="516.30" y1="290.60" x2="519.80" y2="290.60" stroke="#000" stroke-width="1.7" stroke-linecap="butt"/>
<text x="513.30" y="293.90" font-size="9.2" text-anchor="end" font-weight="normal" fill="#000">40</text>
<line x1="516.30" y1="269.40" x2="519.80" y2="269.40" stroke="#000" stroke-width="1.7" stroke-linecap="butt"/>
<text x="513.30" y="272.70" font-size="9.2" text-anchor="end" font-weight="normal" fill="#000">60</text>
<line x1="516.30" y1="248.20" x2="519.80" y2="248.20" stroke="#000" stroke-width="1.7" stroke-linecap="butt"/>
<text x="513.30" y="251.50" font-size="9.2" text-anchor="end" font-weight="normal" fill="#000">80</text>
<line x1="516.30" y1="227.00" x2="519.80" y2="227.00" stroke="#000" stroke-width="1.7" stroke-linecap="butt"/>
<text x="513.30" y="230.30" font-size="9.2" text-anchor="end" font-weight="normal" fill="#000">100</text>
<line x1="546.44" y1="333.00" x2="546.44" y2="336.40" stroke="#000" stroke-width="1.7" stroke-linecap="butt"/>
<text x="546.44" y="347.40" font-size="9.2" text-anchor="middle" font-weight="normal" fill="#000">10</text>
<line x1="579.74" y1="333.00" x2="579.74" y2="336.40" stroke="#000" stroke-width="1.7" stroke-linecap="butt"/>
<text x="579.74" y="347.40" font-size="9.2" text-anchor="middle" font-weight="normal" fill="#000">20</text>
<line x1="613.04" y1="333.00" x2="613.04" y2="336.40" stroke="#000" stroke-width="1.7" stroke-linecap="butt"/>
<text x="613.04" y="347.40" font-size="9.2" text-anchor="middle" font-weight="normal" fill="#000">30</text>
<line x1="646.34" y1="333.00" x2="646.34" y2="336.40" stroke="#000" stroke-width="1.7" stroke-linecap="butt"/>
<text x="646.34" y="347.40" font-size="9.2" text-anchor="middle" font-weight="normal" fill="#000">40</text>
<line x1="679.64" y1="333.00" x2="679.64" y2="336.40" stroke="#000" stroke-width="1.7" stroke-linecap="butt"/>
<text x="679.64" y="347.40" font-size="9.2" text-anchor="middle" font-weight="normal" fill="#000">50</text>
<text x="598.52" y="361.20" font-size="9.5" text-anchor="middle" font-weight="normal" fill="#000">Weeks</text>
<text x="479.00" y="281.00" font-size="9.6" text-anchor="middle" font-weight="normal" fill="#000" transform="rotate(-90 479.00 281.00)">% donor T-cell chimerism</text>
<text x="490.70" y="279.40" font-size="9.4" text-anchor="middle" font-weight="normal" fill="#000" transform="rotate(-90 490.70 279.40)">(% CD45.1)</text>
<polyline points="519.80,333.00 526.46,287.42 539.78,258.27 553.10,252.44 566.42,247.67 633.02,245.87 672.98,245.87" fill="none" stroke="#FF2600" stroke-width="2.05" stroke-linejoin="round"/>
<polyline points="519.80,333.00 526.46,331.41 539.78,289.54 553.10,267.28 566.42,254.56 633.02,237.07 672.98,236.86" fill="none" stroke="#0AEC0A" stroke-width="2.05" stroke-linejoin="round"/>
<polyline points="519.80,333.00 526.46,325.58 539.78,282.12 553.10,264.10 566.42,254.56 633.02,242.48 672.98,238.24" fill="none" stroke="#0A90F5" stroke-width="2.05" stroke-linejoin="round"/>
<polygon points="519.80,330.47 522.33,334.84 517.27,334.84" fill="#000"/>
<line x1="526.46" y1="284.24" x2="526.46" y2="290.60" stroke="#000" stroke-width="1.4" stroke-linecap="butt"/>
<line x1="524.06" y1="284.24" x2="528.86" y2="284.24" stroke="#000" stroke-width="1.4" stroke-linecap="butt"/>
<line x1="524.06" y1="290.60" x2="528.86" y2="290.60" stroke="#000" stroke-width="1.4" stroke-linecap="butt"/>
<polygon points="526.46,284.89 528.99,289.26 523.93,289.26" fill="#000"/>
<line x1="539.78" y1="255.62" x2="539.78" y2="260.92" stroke="#000" stroke-width="1.4" stroke-linecap="butt"/>
<line x1="537.38" y1="255.62" x2="542.18" y2="255.62" stroke="#000" stroke-width="1.4" stroke-linecap="butt"/>
<line x1="537.38" y1="260.92" x2="542.18" y2="260.92" stroke="#000" stroke-width="1.4" stroke-linecap="butt"/>
<polygon points="539.78,255.74 542.31,260.11 537.25,260.11" fill="#000"/>
<line x1="553.10" y1="249.79" x2="553.10" y2="255.09" stroke="#000" stroke-width="1.4" stroke-linecap="butt"/>
<line x1="550.70" y1="249.79" x2="555.50" y2="249.79" stroke="#000" stroke-width="1.4" stroke-linecap="butt"/>
<line x1="550.70" y1="255.09" x2="555.50" y2="255.09" stroke="#000" stroke-width="1.4" stroke-linecap="butt"/>
<polygon points="553.10,249.91 555.63,254.28 550.57,254.28" fill="#000"/>
<line x1="566.42" y1="244.49" x2="566.42" y2="250.85" stroke="#000" stroke-width="1.4" stroke-linecap="butt"/>
<line x1="564.02" y1="244.49" x2="568.82" y2="244.49" stroke="#000" stroke-width="1.4" stroke-linecap="butt"/>
<line x1="564.02" y1="250.85" x2="568.82" y2="250.85" stroke="#000" stroke-width="1.4" stroke-linecap="butt"/>
<polygon points="566.42,245.14 568.95,249.51 563.89,249.51" fill="#000"/>
<line x1="633.02" y1="240.57" x2="633.02" y2="251.17" stroke="#000" stroke-width="1.4" stroke-linecap="butt"/>
<line x1="630.62" y1="240.57" x2="635.42" y2="240.57" stroke="#000" stroke-width="1.4" stroke-linecap="butt"/>
<line x1="630.62" y1="251.17" x2="635.42" y2="251.17" stroke="#000" stroke-width="1.4" stroke-linecap="butt"/>
<polygon points="633.02,243.34 635.55,247.71 630.49,247.71" fill="#000"/>
<line x1="672.98" y1="240.57" x2="672.98" y2="251.17" stroke="#000" stroke-width="1.4" stroke-linecap="butt"/>
<line x1="670.58" y1="240.57" x2="675.38" y2="240.57" stroke="#000" stroke-width="1.4" stroke-linecap="butt"/>
<line x1="670.58" y1="251.17" x2="675.38" y2="251.17" stroke="#000" stroke-width="1.4" stroke-linecap="butt"/>
<polygon points="672.98,243.34 675.51,247.71 670.45,247.71" fill="#000"/>
<rect x="517.50" y="330.70" width="4.60" height="4.60" fill="#000"/>
<line x1="526.46" y1="330.35" x2="526.46" y2="332.47" stroke="#000" stroke-width="1.4" stroke-linecap="butt"/>
<line x1="524.06" y1="330.35" x2="528.86" y2="330.35" stroke="#000" stroke-width="1.4" stroke-linecap="butt"/>
<line x1="524.06" y1="332.47" x2="528.86" y2="332.47" stroke="#000" stroke-width="1.4" stroke-linecap="butt"/>
<rect x="524.16" y="329.11" width="4.60" height="4.60" fill="#000"/>
<line x1="539.78" y1="286.36" x2="539.78" y2="292.72" stroke="#000" stroke-width="1.4" stroke-linecap="butt"/>
<line x1="537.38" y1="286.36" x2="542.18" y2="286.36" stroke="#000" stroke-width="1.4" stroke-linecap="butt"/>
<line x1="537.38" y1="292.72" x2="542.18" y2="292.72" stroke="#000" stroke-width="1.4" stroke-linecap="butt"/>
<rect x="537.48" y="287.24" width="4.60" height="4.60" fill="#000"/>
<line x1="553.10" y1="265.16" x2="553.10" y2="269.40" stroke="#000" stroke-width="1.4" stroke-linecap="butt"/>
<line x1="550.70" y1="265.16" x2="555.50" y2="265.16" stroke="#000" stroke-width="1.4" stroke-linecap="butt"/>
<line x1="550.70" y1="269.40" x2="555.50" y2="269.40" stroke="#000" stroke-width="1.4" stroke-linecap="butt"/>
<rect x="550.80" y="264.98" width="4.60" height="4.60" fill="#000"/>
<line x1="566.42" y1="252.44" x2="566.42" y2="256.68" stroke="#000" stroke-width="1.4" stroke-linecap="butt"/>
<line x1="564.02" y1="252.44" x2="568.82" y2="252.44" stroke="#000" stroke-width="1.4" stroke-linecap="butt"/>
<line x1="564.02" y1="256.68" x2="568.82" y2="256.68" stroke="#000" stroke-width="1.4" stroke-linecap="butt"/>
<rect x="564.12" y="252.26" width="4.60" height="4.60" fill="#000"/>
<line x1="633.02" y1="233.89" x2="633.02" y2="240.25" stroke="#000" stroke-width="1.4" stroke-linecap="butt"/>
<line x1="630.62" y1="233.89" x2="635.42" y2="233.89" stroke="#000" stroke-width="1.4" stroke-linecap="butt"/>
<line x1="630.62" y1="240.25" x2="635.42" y2="240.25" stroke="#000" stroke-width="1.4" stroke-linecap="butt"/>
<rect x="630.72" y="234.77" width="4.60" height="4.60" fill="#000"/>
<line x1="672.98" y1="234.74" x2="672.98" y2="238.98" stroke="#000" stroke-width="1.4" stroke-linecap="butt"/>
<line x1="670.58" y1="234.74" x2="675.38" y2="234.74" stroke="#000" stroke-width="1.4" stroke-linecap="butt"/>
<line x1="670.58" y1="238.98" x2="675.38" y2="238.98" stroke="#000" stroke-width="1.4" stroke-linecap="butt"/>
<rect x="670.68" y="234.56" width="4.60" height="4.60" fill="#000"/>
<circle cx="519.80" cy="333.00" r="2.30" fill="#000"/>
<line x1="526.46" y1="324.52" x2="526.46" y2="326.64" stroke="#000" stroke-width="1.4" stroke-linecap="butt"/>
<line x1="524.06" y1="324.52" x2="528.86" y2="324.52" stroke="#000" stroke-width="1.4" stroke-linecap="butt"/>
<line x1="524.06" y1="326.64" x2="528.86" y2="326.64" stroke="#000" stroke-width="1.4" stroke-linecap="butt"/>
<circle cx="526.46" cy="325.58" r="2.30" fill="#000"/>
<line x1="539.78" y1="280.00" x2="539.78" y2="284.24" stroke="#000" stroke-width="1.4" stroke-linecap="butt"/>
<line x1="537.38" y1="280.00" x2="542.18" y2="280.00" stroke="#000" stroke-width="1.4" stroke-linecap="butt"/>
<line x1="537.38" y1="284.24" x2="542.18" y2="284.24" stroke="#000" stroke-width="1.4" stroke-linecap="butt"/>
<circle cx="539.78" cy="282.12" r="2.30" fill="#000"/>
<line x1="553.10" y1="261.98" x2="553.10" y2="266.22" stroke="#000" stroke-width="1.4" stroke-linecap="butt"/>
<line x1="550.70" y1="261.98" x2="555.50" y2="261.98" stroke="#000" stroke-width="1.4" stroke-linecap="butt"/>
<line x1="550.70" y1="266.22" x2="555.50" y2="266.22" stroke="#000" stroke-width="1.4" stroke-linecap="butt"/>
<circle cx="553.10" cy="264.10" r="2.30" fill="#000"/>
<line x1="566.42" y1="252.44" x2="566.42" y2="256.68" stroke="#000" stroke-width="1.4" stroke-linecap="butt"/>
<line x1="564.02" y1="252.44" x2="568.82" y2="252.44" stroke="#000" stroke-width="1.4" stroke-linecap="butt"/>
<line x1="564.02" y1="256.68" x2="568.82" y2="256.68" stroke="#000" stroke-width="1.4" stroke-linecap="butt"/>
<circle cx="566.42" cy="254.56" r="2.30" fill="#000"/>
<line x1="633.02" y1="239.30" x2="633.02" y2="245.66" stroke="#000" stroke-width="1.4" stroke-linecap="butt"/>
<line x1="630.62" y1="239.30" x2="635.42" y2="239.30" stroke="#000" stroke-width="1.4" stroke-linecap="butt"/>
<line x1="630.62" y1="245.66" x2="635.42" y2="245.66" stroke="#000" stroke-width="1.4" stroke-linecap="butt"/>
<circle cx="633.02" cy="242.48" r="2.30" fill="#000"/>
<line x1="672.98" y1="236.12" x2="672.98" y2="240.36" stroke="#000" stroke-width="1.4" stroke-linecap="butt"/>
<line x1="670.58" y1="236.12" x2="675.38" y2="236.12" stroke="#000" stroke-width="1.4" stroke-linecap="butt"/>
<line x1="670.58" y1="240.36" x2="675.38" y2="240.36" stroke="#000" stroke-width="1.4" stroke-linecap="butt"/>
<circle cx="672.98" cy="238.24" r="2.30" fill="#000"/>
<line x1="252.20" y1="373.80" x2="265.50" y2="373.80" stroke="#0A90F5" stroke-width="2.2" stroke-linecap="butt"/>
<circle cx="258.85" cy="373.80" r="2.30" fill="#000"/>
<text x="270.00" y="377.20" font-size="9.7" text-anchor="start" font-weight="normal" fill="#000">CD117-ADC</text>
<line x1="327.50" y1="373.80" x2="341.00" y2="373.80" stroke="#0AEC0A" stroke-width="2.2" stroke-linecap="butt"/>
<rect x="331.95" y="371.50" width="4.60" height="4.60" fill="#000"/>
<text x="344.60" y="377.20" font-size="9.7" text-anchor="start" font-weight="normal" fill="#000">CD45.2-ADC</text>
<line x1="408.50" y1="373.80" x2="421.60" y2="373.80" stroke="#FF2600" stroke-width="2.2" stroke-linecap="butt"/>
<polygon points="415.05,371.27 417.58,375.64 412.52,375.64" fill="#000"/>
<text x="426.90" y="377.20" font-size="9.7" text-anchor="start" font-weight="normal" fill="#000">5 Gy TBI</text>
<text x="3.30" y="402.30" font-size="13.5" text-anchor="middle" font-weight="bold" fill="#000">e</text>
<line x1="39.85" y1="401.80" x2="39.85" y2="525.50" stroke="#000" stroke-width="1.9" stroke-linecap="butt"/>
<line x1="38.95" y1="524.50" x2="200.11" y2="524.50" stroke="#000" stroke-width="1.9" stroke-linecap="butt"/>
<line x1="36.25" y1="524.50" x2="39.85" y2="524.50" stroke="#000" stroke-width="1.7" stroke-linecap="butt"/>
<text x="32.65" y="527.80" font-size="9.2" text-anchor="end" font-weight="normal" fill="#000">0</text>
<line x1="36.25" y1="494.02" x2="39.85" y2="494.02" stroke="#000" stroke-width="1.7" stroke-linecap="butt"/>
<text x="32.65" y="497.32" font-size="9.2" text-anchor="end" font-weight="normal" fill="#000">1</text>
<line x1="36.25" y1="463.55" x2="39.85" y2="463.55" stroke="#000" stroke-width="1.7" stroke-linecap="butt"/>
<text x="32.65" y="466.85" font-size="9.2" text-anchor="end" font-weight="normal" fill="#000">2</text>
<line x1="36.25" y1="433.07" x2="39.85" y2="433.07" stroke="#000" stroke-width="1.7" stroke-linecap="butt"/>
<text x="32.65" y="436.38" font-size="9.2" text-anchor="end" font-weight="normal" fill="#000">3</text>
<line x1="36.25" y1="402.60" x2="39.85" y2="402.60" stroke="#000" stroke-width="1.7" stroke-linecap="butt"/>
<text x="32.65" y="405.90" font-size="9.2" text-anchor="end" font-weight="normal" fill="#000">4</text>
<line x1="39.85" y1="524.50" x2="39.85" y2="528.00" stroke="#000" stroke-width="1.7" stroke-linecap="butt"/>
<text x="39.85" y="539.50" font-size="9.2" text-anchor="middle" font-weight="normal" fill="#000">2</text>
<line x1="62.63" y1="524.50" x2="62.63" y2="528.00" stroke="#000" stroke-width="1.7" stroke-linecap="butt"/>
<text x="62.63" y="539.50" font-size="9.2" text-anchor="middle" font-weight="normal" fill="#000">4</text>
<line x1="108.19" y1="524.50" x2="108.19" y2="528.00" stroke="#000" stroke-width="1.7" stroke-linecap="butt"/>
<text x="108.19" y="539.50" font-size="9.2" text-anchor="middle" font-weight="normal" fill="#000">8</text>
<line x1="153.75" y1="524.50" x2="153.75" y2="528.00" stroke="#000" stroke-width="1.7" stroke-linecap="butt"/>
<text x="153.75" y="539.50" font-size="9.2" text-anchor="middle" font-weight="normal" fill="#000">12</text>
<line x1="199.31" y1="524.50" x2="199.31" y2="528.00" stroke="#000" stroke-width="1.7" stroke-linecap="butt"/>
<text x="199.31" y="539.50" font-size="9.2" text-anchor="middle" font-weight="normal" fill="#000">16</text>
<text x="118.58" y="553.20" font-size="9.5" text-anchor="middle" font-weight="normal" fill="#000">Weeks</text>
<text x="7.70" y="463.60" font-size="9.6" text-anchor="middle" font-weight="normal" fill="#000" transform="rotate(-90 7.70 463.60)">Absolute myeloid count</text>
<text x="19.20" y="463.60" font-size="9.4" text-anchor="middle" font-weight="normal" fill="#000" transform="rotate(-90 19.20 463.60)">(k/&#956;L)</text>
<line x1="39.85" y1="456.54" x2="199.31" y2="456.54" stroke="#000" stroke-width="1.75" stroke-linecap="butt"/>
<polyline points="39.85,488.54 62.63,466.60 108.19,465.68 153.75,447.09 199.31,479.09" fill="none" stroke="#FF2600" stroke-width="2.05" stroke-linejoin="round"/>
<polyline points="39.85,475.74 62.63,442.83 108.19,449.84 153.75,446.18 199.31,453.80" fill="none" stroke="#0AEC0A" stroke-width="2.05" stroke-linejoin="round"/>
<polyline points="39.85,474.22 62.63,462.94 108.19,436.12 153.75,469.64 199.31,456.54" fill="none" stroke="#0A90F5" stroke-width="2.05" stroke-linejoin="round"/>
<line x1="39.85" y1="485.49" x2="39.85" y2="491.59" stroke="#000" stroke-width="1.4" stroke-linecap="butt"/>
<line x1="37.45" y1="485.49" x2="42.25" y2="485.49" stroke="#000" stroke-width="1.4" stroke-linecap="butt"/>
<line x1="37.45" y1="491.59" x2="42.25" y2="491.59" stroke="#000" stroke-width="1.4" stroke-linecap="butt"/>
<polygon points="39.85,486.01 42.38,490.38 37.32,490.38" fill="#000"/>
<line x1="62.63" y1="462.03" x2="62.63" y2="471.17" stroke="#000" stroke-width="1.4" stroke-linecap="butt"/>
<line x1="60.23" y1="462.03" x2="65.03" y2="462.03" stroke="#000" stroke-width="1.4" stroke-linecap="butt"/>
<line x1="60.23" y1="471.17" x2="65.03" y2="471.17" stroke="#000" stroke-width="1.4" stroke-linecap="butt"/>
<polygon points="62.63,464.07 65.16,468.44 60.10,468.44" fill="#000"/>
<line x1="108.19" y1="459.59" x2="108.19" y2="471.78" stroke="#000" stroke-width="1.4" stroke-linecap="butt"/>
<line x1="105.79" y1="459.59" x2="110.59" y2="459.59" stroke="#000" stroke-width="1.4" stroke-linecap="butt"/>
<line x1="105.79" y1="471.78" x2="110.59" y2="471.78" stroke="#000" stroke-width="1.4" stroke-linecap="butt"/>
<polygon points="108.19,463.15 110.72,467.52 105.66,467.52" fill="#000"/>
<line x1="153.75" y1="436.43" x2="153.75" y2="457.76" stroke="#000" stroke-width="1.4" stroke-linecap="butt"/>
<line x1="151.35" y1="436.43" x2="156.15" y2="436.43" stroke="#000" stroke-width="1.4" stroke-linecap="butt"/>
<line x1="151.35" y1="457.76" x2="156.15" y2="457.76" stroke="#000" stroke-width="1.4" stroke-linecap="butt"/>
<polygon points="153.75,444.56 156.28,448.93 151.22,448.93" fill="#000"/>
<line x1="199.31" y1="473.00" x2="199.31" y2="485.19" stroke="#000" stroke-width="1.4" stroke-linecap="butt"/>
<line x1="196.91" y1="473.00" x2="201.71" y2="473.00" stroke="#000" stroke-width="1.4" stroke-linecap="butt"/>
<line x1="196.91" y1="485.19" x2="201.71" y2="485.19" stroke="#000" stroke-width="1.4" stroke-linecap="butt"/>
<polygon points="199.31,476.56 201.84,480.93 196.78,480.93" fill="#000"/>
<line x1="39.85" y1="471.17" x2="39.85" y2="480.31" stroke="#000" stroke-width="1.4" stroke-linecap="butt"/>
<line x1="37.45" y1="471.17" x2="42.25" y2="471.17" stroke="#000" stroke-width="1.4" stroke-linecap="butt"/>
<line x1="37.45" y1="480.31" x2="42.25" y2="480.31" stroke="#000" stroke-width="1.4" stroke-linecap="butt"/>
<rect x="37.55" y="473.44" width="4.60" height="4.60" fill="#000"/>
<line x1="62.63" y1="434.29" x2="62.63" y2="451.36" stroke="#000" stroke-width="1.4" stroke-linecap="butt"/>
<line x1="60.23" y1="434.29" x2="65.03" y2="434.29" stroke="#000" stroke-width="1.4" stroke-linecap="butt"/>
<line x1="60.23" y1="451.36" x2="65.03" y2="451.36" stroke="#000" stroke-width="1.4" stroke-linecap="butt"/>
<rect x="60.33" y="440.53" width="4.60" height="4.60" fill="#000"/>
<line x1="108.19" y1="443.74" x2="108.19" y2="455.93" stroke="#000" stroke-width="1.4" stroke-linecap="butt"/>
<line x1="105.79" y1="443.74" x2="110.59" y2="443.74" stroke="#000" stroke-width="1.4" stroke-linecap="butt"/>
<line x1="105.79" y1="455.93" x2="110.59" y2="455.93" stroke="#000" stroke-width="1.4" stroke-linecap="butt"/>
<rect x="105.89" y="447.54" width="4.60" height="4.60" fill="#000"/>
<line x1="153.75" y1="432.47" x2="153.75" y2="459.89" stroke="#000" stroke-width="1.4" stroke-linecap="butt"/>
<line x1="151.35" y1="432.47" x2="156.15" y2="432.47" stroke="#000" stroke-width="1.4" stroke-linecap="butt"/>
<line x1="151.35" y1="459.89" x2="156.15" y2="459.89" stroke="#000" stroke-width="1.4" stroke-linecap="butt"/>
<rect x="151.45" y="443.88" width="4.60" height="4.60" fill="#000"/>
<line x1="199.31" y1="449.23" x2="199.31" y2="458.37" stroke="#000" stroke-width="1.4" stroke-linecap="butt"/>
<line x1="196.91" y1="449.23" x2="201.71" y2="449.23" stroke="#000" stroke-width="1.4" stroke-linecap="butt"/>
<line x1="196.91" y1="458.37" x2="201.71" y2="458.37" stroke="#000" stroke-width="1.4" stroke-linecap="butt"/>
<rect x="197.01" y="451.50" width="4.60" height="4.60" fill="#000"/>
<line x1="39.85" y1="469.64" x2="39.85" y2="478.79" stroke="#000" stroke-width="1.4" stroke-linecap="butt"/>
<line x1="37.45" y1="469.64" x2="42.25" y2="469.64" stroke="#000" stroke-width="1.4" stroke-linecap="butt"/>
<line x1="37.45" y1="478.79" x2="42.25" y2="478.79" stroke="#000" stroke-width="1.4" stroke-linecap="butt"/>
<circle cx="39.85" cy="474.22" r="2.30" fill="#000"/>
<line x1="62.63" y1="456.85" x2="62.63" y2="469.04" stroke="#000" stroke-width="1.4" stroke-linecap="butt"/>
<line x1="60.23" y1="456.85" x2="65.03" y2="456.85" stroke="#000" stroke-width="1.4" stroke-linecap="butt"/>
<line x1="60.23" y1="469.04" x2="65.03" y2="469.04" stroke="#000" stroke-width="1.4" stroke-linecap="butt"/>
<circle cx="62.63" cy="462.94" r="2.30" fill="#000"/>
<line x1="108.19" y1="420.88" x2="108.19" y2="451.36" stroke="#000" stroke-width="1.4" stroke-linecap="butt"/>
<line x1="105.79" y1="420.88" x2="110.59" y2="420.88" stroke="#000" stroke-width="1.4" stroke-linecap="butt"/>
<line x1="105.79" y1="451.36" x2="110.59" y2="451.36" stroke="#000" stroke-width="1.4" stroke-linecap="butt"/>
<circle cx="108.19" cy="436.12" r="2.30" fill="#000"/>
<line x1="153.75" y1="465.38" x2="153.75" y2="473.91" stroke="#000" stroke-width="1.4" stroke-linecap="butt"/>
<line x1="151.35" y1="465.38" x2="156.15" y2="465.38" stroke="#000" stroke-width="1.4" stroke-linecap="butt"/>
<line x1="151.35" y1="473.91" x2="156.15" y2="473.91" stroke="#000" stroke-width="1.4" stroke-linecap="butt"/>
<circle cx="153.75" cy="469.64" r="2.30" fill="#000"/>
<line x1="199.31" y1="450.45" x2="199.31" y2="462.64" stroke="#000" stroke-width="1.4" stroke-linecap="butt"/>
<line x1="196.91" y1="450.45" x2="201.71" y2="450.45" stroke="#000" stroke-width="1.4" stroke-linecap="butt"/>
<line x1="196.91" y1="462.64" x2="201.71" y2="462.64" stroke="#000" stroke-width="1.4" stroke-linecap="butt"/>
<circle cx="199.31" cy="456.54" r="2.30" fill="#000"/>
<text x="243.50" y="402.00" font-size="13.5" text-anchor="middle" font-weight="bold" fill="#000">f</text>
<line x1="280.20" y1="402.72" x2="280.20" y2="525.00" stroke="#000" stroke-width="1.9" stroke-linecap="butt"/>
<line x1="279.30" y1="524.00" x2="438.64" y2="524.00" stroke="#000" stroke-width="1.9" stroke-linecap="butt"/>
<line x1="276.60" y1="524.00" x2="280.20" y2="524.00" stroke="#000" stroke-width="1.7" stroke-linecap="butt"/>
<text x="273.00" y="527.30" font-size="9.2" text-anchor="end" font-weight="normal" fill="#000">0</text>
<line x1="276.60" y1="493.88" x2="280.20" y2="493.88" stroke="#000" stroke-width="1.7" stroke-linecap="butt"/>
<text x="273.00" y="497.18" font-size="9.2" text-anchor="end" font-weight="normal" fill="#000">2</text>
<line x1="276.60" y1="463.76" x2="280.20" y2="463.76" stroke="#000" stroke-width="1.7" stroke-linecap="butt"/>
<text x="273.00" y="467.06" font-size="9.2" text-anchor="end" font-weight="normal" fill="#000">4</text>
<line x1="276.60" y1="433.64" x2="280.20" y2="433.64" stroke="#000" stroke-width="1.7" stroke-linecap="butt"/>
<text x="273.00" y="436.94" font-size="9.2" text-anchor="end" font-weight="normal" fill="#000">6</text>
<line x1="276.60" y1="403.52" x2="280.20" y2="403.52" stroke="#000" stroke-width="1.7" stroke-linecap="butt"/>
<text x="273.00" y="406.82" font-size="9.2" text-anchor="end" font-weight="normal" fill="#000">8</text>
<line x1="280.20" y1="524.00" x2="280.20" y2="527.50" stroke="#000" stroke-width="1.7" stroke-linecap="butt"/>
<text x="280.20" y="539.00" font-size="9.2" text-anchor="middle" font-weight="normal" fill="#000">2</text>
<line x1="302.72" y1="524.00" x2="302.72" y2="527.50" stroke="#000" stroke-width="1.7" stroke-linecap="butt"/>
<text x="302.72" y="539.00" font-size="9.2" text-anchor="middle" font-weight="normal" fill="#000">4</text>
<line x1="347.76" y1="524.00" x2="347.76" y2="527.50" stroke="#000" stroke-width="1.7" stroke-linecap="butt"/>
<text x="347.76" y="539.00" font-size="9.2" text-anchor="middle" font-weight="normal" fill="#000">8</text>
<line x1="392.80" y1="524.00" x2="392.80" y2="527.50" stroke="#000" stroke-width="1.7" stroke-linecap="butt"/>
<text x="392.80" y="539.00" font-size="9.2" text-anchor="middle" font-weight="normal" fill="#000">12</text>
<line x1="437.84" y1="524.00" x2="437.84" y2="527.50" stroke="#000" stroke-width="1.7" stroke-linecap="butt"/>
<text x="437.84" y="539.00" font-size="9.2" text-anchor="middle" font-weight="normal" fill="#000">16</text>
<text x="357.52" y="552.70" font-size="9.5" text-anchor="middle" font-weight="normal" fill="#000">Weeks</text>
<text x="248.90" y="464.80" font-size="9.6" text-anchor="middle" font-weight="normal" fill="#000" transform="rotate(-90 248.90 464.80)">Absolute B-cell count</text>
<text x="260.50" y="464.10" font-size="9.4" text-anchor="middle" font-weight="normal" fill="#000" transform="rotate(-90 260.50 464.10)">(k/&#956;L)</text>
<line x1="280.20" y1="445.69" x2="437.84" y2="445.69" stroke="#000" stroke-width="1.75" stroke-linecap="butt"/>
<polyline points="280.20,502.61 302.72,485.15 347.76,459.09 392.80,446.29 437.84,465.72" fill="none" stroke="#FF2600" stroke-width="2.05" stroke-linejoin="round"/>
<polyline points="280.20,476.41 302.72,459.09 347.76,457.43 392.80,432.28 437.84,461.35" fill="none" stroke="#0AEC0A" stroke-width="2.05" stroke-linejoin="round"/>
<polyline points="280.20,441.62 302.72,446.74 347.76,461.80 392.80,445.09 437.84,442.98" fill="none" stroke="#0A90F5" stroke-width="2.05" stroke-linejoin="round"/>
<line x1="280.20" y1="499.60" x2="280.20" y2="505.63" stroke="#000" stroke-width="1.4" stroke-linecap="butt"/>
<line x1="277.80" y1="499.60" x2="282.60" y2="499.60" stroke="#000" stroke-width="1.4" stroke-linecap="butt"/>
<line x1="277.80" y1="505.63" x2="282.60" y2="505.63" stroke="#000" stroke-width="1.4" stroke-linecap="butt"/>
<polygon points="280.20,500.08 282.73,504.45 277.67,504.45" fill="#000"/>
<line x1="302.72" y1="480.63" x2="302.72" y2="489.66" stroke="#000" stroke-width="1.4" stroke-linecap="butt"/>
<line x1="300.32" y1="480.63" x2="305.12" y2="480.63" stroke="#000" stroke-width="1.4" stroke-linecap="butt"/>
<line x1="300.32" y1="489.66" x2="305.12" y2="489.66" stroke="#000" stroke-width="1.4" stroke-linecap="butt"/>
<polygon points="302.72,482.62 305.25,486.99 300.19,486.99" fill="#000"/>
<line x1="347.76" y1="454.57" x2="347.76" y2="463.61" stroke="#000" stroke-width="1.4" stroke-linecap="butt"/>
<line x1="345.36" y1="454.57" x2="350.16" y2="454.57" stroke="#000" stroke-width="1.4" stroke-linecap="butt"/>
<line x1="345.36" y1="463.61" x2="350.16" y2="463.61" stroke="#000" stroke-width="1.4" stroke-linecap="butt"/>
<polygon points="347.76,456.56 350.29,460.93 345.23,460.93" fill="#000"/>
<line x1="392.80" y1="440.27" x2="392.80" y2="452.31" stroke="#000" stroke-width="1.4" stroke-linecap="butt"/>
<line x1="390.40" y1="440.27" x2="395.20" y2="440.27" stroke="#000" stroke-width="1.4" stroke-linecap="butt"/>
<line x1="390.40" y1="452.31" x2="395.20" y2="452.31" stroke="#000" stroke-width="1.4" stroke-linecap="butt"/>
<polygon points="392.80,443.76 395.33,448.13 390.27,448.13" fill="#000"/>
<line x1="437.84" y1="458.19" x2="437.84" y2="473.25" stroke="#000" stroke-width="1.4" stroke-linecap="butt"/>
<line x1="435.44" y1="458.19" x2="440.24" y2="458.19" stroke="#000" stroke-width="1.4" stroke-linecap="butt"/>
<line x1="435.44" y1="473.25" x2="440.24" y2="473.25" stroke="#000" stroke-width="1.4" stroke-linecap="butt"/>
<polygon points="437.84,463.19 440.37,467.56 435.31,467.56" fill="#000"/>
<line x1="280.20" y1="468.88" x2="280.20" y2="483.94" stroke="#000" stroke-width="1.4" stroke-linecap="butt"/>
<line x1="277.80" y1="468.88" x2="282.60" y2="468.88" stroke="#000" stroke-width="1.4" stroke-linecap="butt"/>
<line x1="277.80" y1="483.94" x2="282.60" y2="483.94" stroke="#000" stroke-width="1.4" stroke-linecap="butt"/>
<rect x="277.90" y="474.11" width="4.60" height="4.60" fill="#000"/>
<line x1="302.72" y1="445.54" x2="302.72" y2="472.65" stroke="#000" stroke-width="1.4" stroke-linecap="butt"/>
<line x1="300.32" y1="445.54" x2="305.12" y2="445.54" stroke="#000" stroke-width="1.4" stroke-linecap="butt"/>
<line x1="300.32" y1="472.65" x2="305.12" y2="472.65" stroke="#000" stroke-width="1.4" stroke-linecap="butt"/>
<rect x="300.42" y="456.79" width="4.60" height="4.60" fill="#000"/>
<line x1="347.76" y1="451.41" x2="347.76" y2="463.46" stroke="#000" stroke-width="1.4" stroke-linecap="butt"/>
<line x1="345.36" y1="451.41" x2="350.16" y2="451.41" stroke="#000" stroke-width="1.4" stroke-linecap="butt"/>
<line x1="345.36" y1="463.46" x2="350.16" y2="463.46" stroke="#000" stroke-width="1.4" stroke-linecap="butt"/>
<rect x="345.46" y="455.13" width="4.60" height="4.60" fill="#000"/>
<line x1="392.80" y1="423.25" x2="392.80" y2="441.32" stroke="#000" stroke-width="1.4" stroke-linecap="butt"/>
<line x1="390.40" y1="423.25" x2="395.20" y2="423.25" stroke="#000" stroke-width="1.4" stroke-linecap="butt"/>
<line x1="390.40" y1="441.32" x2="395.20" y2="441.32" stroke="#000" stroke-width="1.4" stroke-linecap="butt"/>
<rect x="390.50" y="429.98" width="4.60" height="4.60" fill="#000"/>
<line x1="437.84" y1="456.83" x2="437.84" y2="465.87" stroke="#000" stroke-width="1.4" stroke-linecap="butt"/>
<line x1="435.44" y1="456.83" x2="440.24" y2="456.83" stroke="#000" stroke-width="1.4" stroke-linecap="butt"/>
<line x1="435.44" y1="465.87" x2="440.24" y2="465.87" stroke="#000" stroke-width="1.4" stroke-linecap="butt"/>
<rect x="435.54" y="459.05" width="4.60" height="4.60" fill="#000"/>
<line x1="280.20" y1="432.59" x2="280.20" y2="450.66" stroke="#000" stroke-width="1.4" stroke-linecap="butt"/>
<line x1="277.80" y1="432.59" x2="282.60" y2="432.59" stroke="#000" stroke-width="1.4" stroke-linecap="butt"/>
<line x1="277.80" y1="450.66" x2="282.60" y2="450.66" stroke="#000" stroke-width="1.4" stroke-linecap="butt"/>
<circle cx="280.20" cy="441.62" r="2.30" fill="#000"/>
<line x1="302.72" y1="437.71" x2="302.72" y2="455.78" stroke="#000" stroke-width="1.4" stroke-linecap="butt"/>
<line x1="300.32" y1="437.71" x2="305.12" y2="437.71" stroke="#000" stroke-width="1.4" stroke-linecap="butt"/>
<line x1="300.32" y1="455.78" x2="305.12" y2="455.78" stroke="#000" stroke-width="1.4" stroke-linecap="butt"/>
<circle cx="302.72" cy="446.74" r="2.30" fill="#000"/>
<line x1="347.76" y1="457.28" x2="347.76" y2="466.32" stroke="#000" stroke-width="1.4" stroke-linecap="butt"/>
<line x1="345.36" y1="457.28" x2="350.16" y2="457.28" stroke="#000" stroke-width="1.4" stroke-linecap="butt"/>
<line x1="345.36" y1="466.32" x2="350.16" y2="466.32" stroke="#000" stroke-width="1.4" stroke-linecap="butt"/>
<circle cx="347.76" cy="461.80" r="2.30" fill="#000"/>
<line x1="392.80" y1="440.57" x2="392.80" y2="449.60" stroke="#000" stroke-width="1.4" stroke-linecap="butt"/>
<line x1="390.40" y1="440.57" x2="395.20" y2="440.57" stroke="#000" stroke-width="1.4" stroke-linecap="butt"/>
<line x1="390.40" y1="449.60" x2="395.20" y2="449.60" stroke="#000" stroke-width="1.4" stroke-linecap="butt"/>
<circle cx="392.80" cy="445.09" r="2.30" fill="#000"/>
<line x1="437.84" y1="433.94" x2="437.84" y2="452.01" stroke="#000" stroke-width="1.4" stroke-linecap="butt"/>
<line x1="435.44" y1="433.94" x2="440.24" y2="433.94" stroke="#000" stroke-width="1.4" stroke-linecap="butt"/>
<line x1="435.44" y1="452.01" x2="440.24" y2="452.01" stroke="#000" stroke-width="1.4" stroke-linecap="butt"/>
<circle cx="437.84" cy="442.98" r="2.30" fill="#000"/>
<text x="480.60" y="402.50" font-size="13.5" text-anchor="middle" font-weight="bold" fill="#000">g</text>
<line x1="516.10" y1="403.31" x2="516.10" y2="524.90" stroke="#000" stroke-width="1.9" stroke-linecap="butt"/>
<line x1="515.20" y1="523.90" x2="676.50" y2="523.90" stroke="#000" stroke-width="1.9" stroke-linecap="butt"/>
<line x1="512.50" y1="523.90" x2="516.10" y2="523.90" stroke="#000" stroke-width="1.7" stroke-linecap="butt"/>
<text x="508.90" y="527.20" font-size="9.2" text-anchor="end" font-weight="normal" fill="#000">0</text>
<line x1="512.50" y1="483.97" x2="516.10" y2="483.97" stroke="#000" stroke-width="1.7" stroke-linecap="butt"/>
<text x="508.90" y="487.27" font-size="9.2" text-anchor="end" font-weight="normal" fill="#000">1</text>
<line x1="512.50" y1="444.04" x2="516.10" y2="444.04" stroke="#000" stroke-width="1.7" stroke-linecap="butt"/>
<text x="508.90" y="447.34" font-size="9.2" text-anchor="end" font-weight="normal" fill="#000">2</text>
<line x1="512.50" y1="404.11" x2="516.10" y2="404.11" stroke="#000" stroke-width="1.7" stroke-linecap="butt"/>
<text x="508.90" y="407.41" font-size="9.2" text-anchor="end" font-weight="normal" fill="#000">3</text>
<line x1="516.10" y1="523.90" x2="516.10" y2="527.40" stroke="#000" stroke-width="1.7" stroke-linecap="butt"/>
<text x="516.10" y="538.90" font-size="9.2" text-anchor="middle" font-weight="normal" fill="#000">2</text>
<line x1="538.90" y1="523.90" x2="538.90" y2="527.40" stroke="#000" stroke-width="1.7" stroke-linecap="butt"/>
<text x="538.90" y="538.90" font-size="9.2" text-anchor="middle" font-weight="normal" fill="#000">4</text>
<line x1="584.50" y1="523.90" x2="584.50" y2="527.40" stroke="#000" stroke-width="1.7" stroke-linecap="butt"/>
<text x="584.50" y="538.90" font-size="9.2" text-anchor="middle" font-weight="normal" fill="#000">8</text>
<line x1="630.10" y1="523.90" x2="630.10" y2="527.40" stroke="#000" stroke-width="1.7" stroke-linecap="butt"/>
<text x="630.10" y="538.90" font-size="9.2" text-anchor="middle" font-weight="normal" fill="#000">12</text>
<line x1="675.70" y1="523.90" x2="675.70" y2="527.40" stroke="#000" stroke-width="1.7" stroke-linecap="butt"/>
<text x="675.70" y="538.90" font-size="9.2" text-anchor="middle" font-weight="normal" fill="#000">16</text>
<text x="595.90" y="552.60" font-size="9.5" text-anchor="middle" font-weight="normal" fill="#000">Weeks</text>
<text x="484.50" y="464.00" font-size="9.6" text-anchor="middle" font-weight="normal" fill="#000" transform="rotate(-90 484.50 464.00)">Absolute T-cell count</text>
<text x="496.50" y="464.10" font-size="9.4" text-anchor="middle" font-weight="normal" fill="#000" transform="rotate(-90 496.50 464.10)">(k/&#956;L)</text>
<line x1="516.10" y1="459.61" x2="673.10" y2="459.61" stroke="#000" stroke-width="1.75" stroke-linecap="butt"/>
<polyline points="516.10,514.32 538.90,491.96 584.50,449.23 630.10,473.19 675.70,468.80" fill="none" stroke="#FF2600" stroke-width="2.05" stroke-linejoin="round"/>
<polyline points="516.10,492.75 538.90,467.60 584.50,441.64 630.10,432.86 675.70,428.07" fill="none" stroke="#0AEC0A" stroke-width="2.05" stroke-linejoin="round"/>
<polyline points="516.10,464.00 538.90,458.41 584.50,451.23 630.10,454.82 675.70,464.80" fill="none" stroke="#0A90F5" stroke-width="2.05" stroke-linejoin="round"/>
<line x1="516.10" y1="512.32" x2="516.10" y2="516.31" stroke="#000" stroke-width="1.4" stroke-linecap="butt"/>
<line x1="513.70" y1="512.32" x2="518.50" y2="512.32" stroke="#000" stroke-width="1.4" stroke-linecap="butt"/>
<line x1="513.70" y1="516.31" x2="518.50" y2="516.31" stroke="#000" stroke-width="1.4" stroke-linecap="butt"/>
<polygon points="516.10,511.79 518.63,516.16 513.57,516.16" fill="#000"/>
<line x1="538.90" y1="487.96" x2="538.90" y2="495.95" stroke="#000" stroke-width="1.4" stroke-linecap="butt"/>
<line x1="536.50" y1="487.96" x2="541.30" y2="487.96" stroke="#000" stroke-width="1.4" stroke-linecap="butt"/>
<line x1="536.50" y1="495.95" x2="541.30" y2="495.95" stroke="#000" stroke-width="1.4" stroke-linecap="butt"/>
<polygon points="538.90,489.43 541.43,493.80 536.37,493.80" fill="#000"/>
<line x1="584.50" y1="445.24" x2="584.50" y2="453.22" stroke="#000" stroke-width="1.4" stroke-linecap="butt"/>
<line x1="582.10" y1="445.24" x2="586.90" y2="445.24" stroke="#000" stroke-width="1.4" stroke-linecap="butt"/>
<line x1="582.10" y1="453.22" x2="586.90" y2="453.22" stroke="#000" stroke-width="1.4" stroke-linecap="butt"/>
<polygon points="584.50,446.70 587.03,451.07 581.97,451.07" fill="#000"/>
<line x1="630.10" y1="465.20" x2="630.10" y2="481.17" stroke="#000" stroke-width="1.4" stroke-linecap="butt"/>
<line x1="627.70" y1="465.20" x2="632.50" y2="465.20" stroke="#000" stroke-width="1.4" stroke-linecap="butt"/>
<line x1="627.70" y1="481.17" x2="632.50" y2="481.17" stroke="#000" stroke-width="1.4" stroke-linecap="butt"/>
<polygon points="630.10,470.66 632.63,475.03 627.57,475.03" fill="#000"/>
<line x1="675.70" y1="464.80" x2="675.70" y2="472.79" stroke="#000" stroke-width="1.4" stroke-linecap="butt"/>
<line x1="673.30" y1="464.80" x2="678.10" y2="464.80" stroke="#000" stroke-width="1.4" stroke-linecap="butt"/>
<line x1="673.30" y1="472.79" x2="678.10" y2="472.79" stroke="#000" stroke-width="1.4" stroke-linecap="butt"/>
<polygon points="675.70,466.27 678.23,470.64 673.17,470.64" fill="#000"/>
<line x1="516.10" y1="486.77" x2="516.10" y2="498.74" stroke="#000" stroke-width="1.4" stroke-linecap="butt"/>
<line x1="513.70" y1="486.77" x2="518.50" y2="486.77" stroke="#000" stroke-width="1.4" stroke-linecap="butt"/>
<line x1="513.70" y1="498.74" x2="518.50" y2="498.74" stroke="#000" stroke-width="1.4" stroke-linecap="butt"/>
<rect x="513.80" y="490.45" width="4.60" height="4.60" fill="#000"/>
<line x1="538.90" y1="459.61" x2="538.90" y2="475.58" stroke="#000" stroke-width="1.4" stroke-linecap="butt"/>
<line x1="536.50" y1="459.61" x2="541.30" y2="459.61" stroke="#000" stroke-width="1.4" stroke-linecap="butt"/>
<line x1="536.50" y1="475.58" x2="541.30" y2="475.58" stroke="#000" stroke-width="1.4" stroke-linecap="butt"/>
<rect x="536.60" y="465.30" width="4.60" height="4.60" fill="#000"/>
<line x1="584.50" y1="434.86" x2="584.50" y2="448.43" stroke="#000" stroke-width="1.4" stroke-linecap="butt"/>
<line x1="582.10" y1="434.86" x2="586.90" y2="434.86" stroke="#000" stroke-width="1.4" stroke-linecap="butt"/>
<line x1="582.10" y1="448.43" x2="586.90" y2="448.43" stroke="#000" stroke-width="1.4" stroke-linecap="butt"/>
<rect x="582.20" y="439.34" width="4.60" height="4.60" fill="#000"/>
<line x1="630.10" y1="424.87" x2="630.10" y2="440.85" stroke="#000" stroke-width="1.4" stroke-linecap="butt"/>
<line x1="627.70" y1="424.87" x2="632.50" y2="424.87" stroke="#000" stroke-width="1.4" stroke-linecap="butt"/>
<line x1="627.70" y1="440.85" x2="632.50" y2="440.85" stroke="#000" stroke-width="1.4" stroke-linecap="butt"/>
<rect x="627.80" y="430.56" width="4.60" height="4.60" fill="#000"/>
<line x1="675.70" y1="421.28" x2="675.70" y2="434.86" stroke="#000" stroke-width="1.4" stroke-linecap="butt"/>
<line x1="673.30" y1="421.28" x2="678.10" y2="421.28" stroke="#000" stroke-width="1.4" stroke-linecap="butt"/>
<line x1="673.30" y1="434.86" x2="678.10" y2="434.86" stroke="#000" stroke-width="1.4" stroke-linecap="butt"/>
<rect x="673.40" y="425.77" width="4.60" height="4.60" fill="#000"/>
<line x1="516.10" y1="460.01" x2="516.10" y2="468.00" stroke="#000" stroke-width="1.4" stroke-linecap="butt"/>
<line x1="513.70" y1="460.01" x2="518.50" y2="460.01" stroke="#000" stroke-width="1.4" stroke-linecap="butt"/>
<line x1="513.70" y1="468.00" x2="518.50" y2="468.00" stroke="#000" stroke-width="1.4" stroke-linecap="butt"/>
<circle cx="516.10" cy="464.00" r="2.30" fill="#000"/>
<line x1="538.90" y1="450.43" x2="538.90" y2="466.40" stroke="#000" stroke-width="1.4" stroke-linecap="butt"/>
<line x1="536.50" y1="450.43" x2="541.30" y2="450.43" stroke="#000" stroke-width="1.4" stroke-linecap="butt"/>
<line x1="536.50" y1="466.40" x2="541.30" y2="466.40" stroke="#000" stroke-width="1.4" stroke-linecap="butt"/>
<circle cx="538.90" cy="458.41" r="2.30" fill="#000"/>
<line x1="584.50" y1="447.23" x2="584.50" y2="455.22" stroke="#000" stroke-width="1.4" stroke-linecap="butt"/>
<line x1="582.10" y1="447.23" x2="586.90" y2="447.23" stroke="#000" stroke-width="1.4" stroke-linecap="butt"/>
<line x1="582.10" y1="455.22" x2="586.90" y2="455.22" stroke="#000" stroke-width="1.4" stroke-linecap="butt"/>
<circle cx="584.50" cy="451.23" r="2.30" fill="#000"/>
<line x1="630.10" y1="450.83" x2="630.10" y2="458.81" stroke="#000" stroke-width="1.4" stroke-linecap="butt"/>
<line x1="627.70" y1="450.83" x2="632.50" y2="450.83" stroke="#000" stroke-width="1.4" stroke-linecap="butt"/>
<line x1="627.70" y1="458.81" x2="632.50" y2="458.81" stroke="#000" stroke-width="1.4" stroke-linecap="butt"/>
<circle cx="630.10" cy="454.82" r="2.30" fill="#000"/>
<line x1="675.70" y1="460.81" x2="675.70" y2="468.80" stroke="#000" stroke-width="1.4" stroke-linecap="butt"/>
<line x1="673.30" y1="460.81" x2="678.10" y2="460.81" stroke="#000" stroke-width="1.4" stroke-linecap="butt"/>
<line x1="673.30" y1="468.80" x2="678.10" y2="468.80" stroke="#000" stroke-width="1.4" stroke-linecap="butt"/>
<circle cx="675.70" cy="464.80" r="2.30" fill="#000"/>
<line x1="211.20" y1="566.60" x2="228.00" y2="566.60" stroke="#000" stroke-width="2.2" stroke-linecap="butt"/>
<text x="232.70" y="569.30" font-size="8.3" text-anchor="start" font-weight="normal" fill="#000">Untreated control</text>
<line x1="305.30" y1="566.60" x2="317.50" y2="566.60" stroke="#0A90F5" stroke-width="2.2" stroke-linecap="butt"/>
<circle cx="311.40" cy="566.60" r="2.00" fill="#000"/>
<text x="322.40" y="570.00" font-size="8.3" text-anchor="start" font-weight="normal" fill="#000">CD117-ADC</text>
<line x1="376.50" y1="566.60" x2="390.00" y2="566.60" stroke="#0AEC0A" stroke-width="2.2" stroke-linecap="butt"/>
<rect x="381.25" y="564.60" width="4.00" height="4.00" fill="#000"/>
<text x="393.40" y="570.00" font-size="8.3" text-anchor="start" font-weight="normal" fill="#000">CD45.2-ADC</text>
<line x1="453.40" y1="566.60" x2="465.40" y2="566.60" stroke="#FF2600" stroke-width="2.2" stroke-linecap="butt"/>
<polygon points="459.40,564.40 461.60,568.20 457.20,568.20" fill="#000"/>
<text x="470.00" y="570.00" font-size="8.3" text-anchor="start" font-weight="normal" fill="#000">5 Gy TBI</text>
</svg></body></html>
